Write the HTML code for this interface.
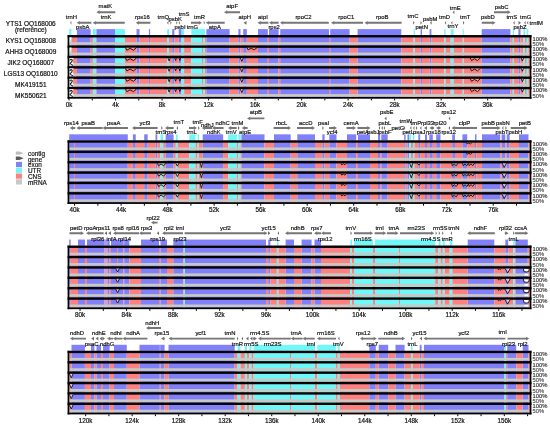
<!DOCTYPE html><html><head><meta charset="utf-8"><style>html,body{margin:0;padding:0;background:#fff;}svg{display:block;filter:blur(0.3px);}text{font-family:"Liberation Sans",sans-serif;stroke-linejoin:round;}.g{font-size:5.9px;fill:#111;stroke:#111;stroke-width:0.18px;}.n{font-size:6.5px;fill:#111;stroke:#111;stroke-width:0.2px;}.a{font-size:6.3px;fill:#111;stroke:#111;stroke-width:0.2px;}.p{font-size:5.8px;fill:#333;stroke:#333;stroke-width:0.15px;}.q{font-size:5.8px;fill:#484848;stroke:#484848;stroke-width:0.13px;}.lg{font-size:6.4px;fill:#111;stroke:#111;stroke-width:0.18px;}</style></head><body>
<svg width="550" height="425" viewBox="0 0 550 425">
<rect width="550" height="425" fill="#fff"/>
<text class="n" x="30.8" y="25.8" text-anchor="middle">YTS1 OQ168006</text>
<text class="n" x="30.8" y="32.3" text-anchor="middle">(reference)</text>
<text class="n" x="30.8" y="43.3" text-anchor="middle">KYS1 OQ168008</text>
<text class="n" x="30.8" y="54.2" text-anchor="middle">AHH3 OQ168009</text>
<text class="n" x="30.8" y="65.3" text-anchor="middle">JIK2 OQ168007</text>
<text class="n" x="30.8" y="76.4" text-anchor="middle">LGS13 OQ168010</text>
<text class="n" x="30.8" y="87.3" text-anchor="middle">MK419151</text>
<text class="n" x="30.8" y="98.3" text-anchor="middle">MK550621</text>
<text class="lg" x="28" y="155.8">contig</text>
<text class="lg" x="28" y="161.5">gene</text>
<text class="lg" x="28" y="167.3">exon</text>
<text class="lg" x="28" y="173.1">UTR</text>
<text class="lg" x="28" y="178.9">CNS</text>
<text class="lg" x="28" y="184.7">mRNA</text>
<path d="M15.8 151.5 L19.4 151.5 L23.7 153.15 L19.4 154.8 L15.8 154.8 Z" fill="#bdbdbd"/>
<path d="M15.8 156.6 L19.4 156.6 L23.7 158.35 L19.4 160.1 L15.8 160.1 Z" fill="#5a5a5a"/>
<rect x="16" y="161.9" width="6" height="5.2" fill="#8080fa"/>
<rect x="16" y="167.7" width="6" height="5.2" fill="#70f8f8"/>
<rect x="16" y="173.5" width="6" height="5.2" fill="#ff8080"/>
<rect x="16" y="179.3" width="6" height="5.2" fill="#c8c8c8"/>
<rect x="69.2" y="29.1" width="2.3" height="6.1" fill="#70f8f8"/>
<rect x="76.9" y="29.1" width="13.8" height="6.1" fill="#8080fa"/>
<rect x="92.9" y="29.1" width="2.9" height="6.1" fill="#70f8f8"/>
<rect x="95.8" y="29.1" width="0.7" height="6.1" fill="#70f8f8"/>
<rect x="96.5" y="29.1" width="18.5" height="6.1" fill="#8080fa"/>
<rect x="115" y="29.1" width="9.9" height="6.1" fill="#70f8f8"/>
<rect x="136.5" y="29.1" width="3" height="6.1" fill="#8080fa"/>
<rect x="148.9" y="29.1" width="1.2" height="6.1" fill="#8080fa"/>
<rect x="167.1" y="29.1" width="1.9" height="6.1" fill="#70f8f8"/>
<rect x="172.2" y="29.1" width="2.2" height="6.1" fill="#8080fa"/>
<rect x="178.7" y="29.1" width="2.3" height="6.1" fill="#8080fa"/>
<rect x="181" y="29.1" width="0.6" height="6.1" fill="#8080fa"/>
<rect x="181.6" y="29.1" width="2.5" height="6.1" fill="#70f8f8"/>
<rect x="191.4" y="29.1" width="10.6" height="6.1" fill="#70f8f8"/>
<rect x="202" y="29.1" width="1" height="6.1" fill="#70f8f8"/>
<rect x="203" y="29.1" width="2" height="6.1" fill="#70f8f8"/>
<rect x="206.4" y="29.1" width="23.2" height="6.1" fill="#8080fa"/>
<rect x="238.4" y="29.1" width="2.1" height="6.1" fill="#8080fa"/>
<rect x="243.2" y="29.1" width="3.6" height="6.1" fill="#8080fa"/>
<rect x="258" y="29.1" width="9.8" height="6.1" fill="#8080fa"/>
<rect x="269" y="29.1" width="9.6" height="6.1" fill="#8080fa"/>
<rect x="280.2" y="29.1" width="48.8" height="6.1" fill="#8080fa"/>
<rect x="330.2" y="29.1" width="19.4" height="6.1" fill="#8080fa"/>
<rect x="357.6" y="29.1" width="43.7" height="6.1" fill="#8080fa"/>
<rect x="413.6" y="29.1" width="1.2" height="6.1" fill="#70f8f8"/>
<rect x="420.6" y="29.1" width="1.4" height="6.1" fill="#8080fa"/>
<rect x="429.6" y="29.1" width="1.8" height="6.1" fill="#8080fa"/>
<rect x="444.2" y="29.1" width="1.4" height="6.1" fill="#70f8f8"/>
<rect x="450.7" y="29.1" width="2.9" height="6.1" fill="#70f8f8"/>
<rect x="462.8" y="29.1" width="1" height="6.1" fill="#70f8f8"/>
<rect x="481.7" y="29.1" width="28.7" height="6.1" fill="#8080fa"/>
<rect x="512.8" y="29.1" width="1.2" height="6.1" fill="#70f8f8"/>
<rect x="518.4" y="29.1" width="2.1" height="6.1" fill="#8080fa"/>
<rect x="523.5" y="29.1" width="1.5" height="6.1" fill="#70f8f8"/>
<rect x="526.8" y="29.1" width="1.5" height="6.1" fill="#70f8f8"/>
<rect x="69.2" y="36.2" width="2.3" height="61.65" fill="#70f8f8"/>
<rect x="71.5" y="36.2" width="5.4" height="61.65" fill="#ff8080"/>
<rect x="76.9" y="36.2" width="13.8" height="61.65" fill="#8080fa"/>
<rect x="90.7" y="36.2" width="2.2" height="61.65" fill="#ff8080"/>
<rect x="92.9" y="36.2" width="2.9" height="61.65" fill="#70f8f8"/>
<rect x="95.8" y="36.2" width="0.7" height="61.65" fill="#ff8080"/>
<rect x="96.5" y="36.2" width="18.5" height="61.65" fill="#8080fa"/>
<rect x="115" y="36.2" width="9.9" height="61.65" fill="#70f8f8"/>
<rect x="124.9" y="36.2" width="11.6" height="61.65" fill="#ff8080"/>
<rect x="136.5" y="36.2" width="3" height="61.65" fill="#8080fa"/>
<rect x="139.5" y="36.2" width="9.4" height="61.65" fill="#ff8080"/>
<rect x="148.9" y="36.2" width="1.2" height="61.65" fill="#8080fa"/>
<rect x="150.1" y="36.2" width="17" height="61.65" fill="#ff8080"/>
<rect x="167.1" y="36.2" width="1.9" height="61.65" fill="#70f8f8"/>
<rect x="169" y="36.2" width="3.2" height="61.65" fill="#ff8080"/>
<rect x="172.2" y="36.2" width="2.2" height="61.65" fill="#8080fa"/>
<rect x="174.4" y="36.2" width="4.3" height="61.65" fill="#ff8080"/>
<rect x="178.7" y="36.2" width="2.3" height="61.65" fill="#8080fa"/>
<rect x="181" y="36.2" width="0.6" height="61.65" fill="#ff8080"/>
<rect x="181.6" y="36.2" width="2.5" height="61.65" fill="#70f8f8"/>
<rect x="184.1" y="36.2" width="7.3" height="61.65" fill="#ff8080"/>
<rect x="191.4" y="36.2" width="10.6" height="61.65" fill="#70f8f8"/>
<rect x="202" y="36.2" width="1" height="61.65" fill="#ff8080"/>
<rect x="203" y="36.2" width="2" height="61.65" fill="#70f8f8"/>
<rect x="205" y="36.2" width="1.4" height="61.65" fill="#ff8080"/>
<rect x="206.4" y="36.2" width="23.2" height="61.65" fill="#8080fa"/>
<rect x="229.6" y="36.2" width="8.8" height="61.65" fill="#ff8080"/>
<rect x="238.4" y="36.2" width="2.1" height="61.65" fill="#8080fa"/>
<rect x="240.5" y="36.2" width="2.7" height="61.65" fill="#ff8080"/>
<rect x="243.2" y="36.2" width="3.6" height="61.65" fill="#8080fa"/>
<rect x="246.8" y="36.2" width="11.2" height="61.65" fill="#ff8080"/>
<rect x="258" y="36.2" width="9.8" height="61.65" fill="#8080fa"/>
<rect x="267.8" y="36.2" width="1.2" height="61.65" fill="#ff8080"/>
<rect x="269" y="36.2" width="9.6" height="61.65" fill="#8080fa"/>
<rect x="278.6" y="36.2" width="1.6" height="61.65" fill="#ff8080"/>
<rect x="280.2" y="36.2" width="48.8" height="61.65" fill="#8080fa"/>
<rect x="329" y="36.2" width="1.2" height="61.65" fill="#ff8080"/>
<rect x="330.2" y="36.2" width="19.4" height="61.65" fill="#8080fa"/>
<rect x="349.6" y="36.2" width="8" height="61.65" fill="#ff8080"/>
<rect x="357.6" y="36.2" width="43.7" height="61.65" fill="#8080fa"/>
<rect x="401.3" y="36.2" width="12.3" height="61.65" fill="#ff8080"/>
<rect x="413.6" y="36.2" width="1.2" height="61.65" fill="#70f8f8"/>
<rect x="414.8" y="36.2" width="5.8" height="61.65" fill="#ff8080"/>
<rect x="420.6" y="36.2" width="1.4" height="61.65" fill="#8080fa"/>
<rect x="422" y="36.2" width="7.6" height="61.65" fill="#ff8080"/>
<rect x="429.6" y="36.2" width="1.8" height="61.65" fill="#8080fa"/>
<rect x="431.4" y="36.2" width="12.8" height="61.65" fill="#ff8080"/>
<rect x="444.2" y="36.2" width="1.4" height="61.65" fill="#70f8f8"/>
<rect x="445.6" y="36.2" width="5.1" height="61.65" fill="#ff8080"/>
<rect x="450.7" y="36.2" width="2.9" height="61.65" fill="#70f8f8"/>
<rect x="453.6" y="36.2" width="9.2" height="61.65" fill="#ff8080"/>
<rect x="462.8" y="36.2" width="1" height="61.65" fill="#70f8f8"/>
<rect x="463.8" y="36.2" width="17.9" height="61.65" fill="#ff8080"/>
<rect x="481.7" y="36.2" width="28.7" height="61.65" fill="#8080fa"/>
<rect x="510.4" y="36.2" width="2.4" height="61.65" fill="#ff8080"/>
<rect x="512.8" y="36.2" width="1.2" height="61.65" fill="#70f8f8"/>
<rect x="514" y="36.2" width="4.4" height="61.65" fill="#ff8080"/>
<rect x="518.4" y="36.2" width="2.1" height="61.65" fill="#8080fa"/>
<rect x="520.5" y="36.2" width="3" height="61.65" fill="#ff8080"/>
<rect x="523.5" y="36.2" width="1.5" height="61.65" fill="#70f8f8"/>
<rect x="525" y="36.2" width="1.8" height="61.65" fill="#ff8080"/>
<rect x="526.8" y="36.2" width="1.5" height="61.65" fill="#70f8f8"/>
<rect x="528.3" y="36.2" width="1.6" height="61.65" fill="#ff8080"/>
<rect x="69.2" y="42.2" width="460.7" height="2.6" fill="#c8c8c4"/>
<rect x="67.6" y="35.05" width="463.9" height="2.4" fill="#000"/>
<text class="p" x="532.6" y="40.5">100%</text>
<text class="q" x="532.6" y="45.7">50%</text>
<rect x="69.2" y="52.57" width="460.7" height="2.6" fill="#c8c8c4"/>
<rect x="67.6" y="45.42" width="463.9" height="2.4" fill="#000"/>
<text class="p" x="532.6" y="50.87">100%</text>
<text class="q" x="532.6" y="56.07">50%</text>
<rect x="69.2" y="62.94" width="460.7" height="2.6" fill="#c8c8c4"/>
<rect x="67.6" y="55.79" width="463.9" height="2.4" fill="#000"/>
<text class="p" x="532.6" y="61.24">100%</text>
<text class="q" x="532.6" y="66.44">50%</text>
<rect x="69.2" y="73.31" width="460.7" height="2.6" fill="#c8c8c4"/>
<rect x="67.6" y="66.16" width="463.9" height="2.4" fill="#000"/>
<text class="p" x="532.6" y="71.61">100%</text>
<text class="q" x="532.6" y="76.81">50%</text>
<rect x="69.2" y="83.68" width="460.7" height="2.6" fill="#c8c8c4"/>
<rect x="67.6" y="76.53" width="463.9" height="2.4" fill="#000"/>
<text class="p" x="532.6" y="81.98">100%</text>
<text class="q" x="532.6" y="87.18">50%</text>
<rect x="69.2" y="94.05" width="460.7" height="2.6" fill="#c8c8c4"/>
<rect x="67.6" y="86.9" width="463.9" height="2.4" fill="#000"/>
<text class="p" x="532.6" y="92.35">100%</text>
<text class="q" x="532.6" y="97.55">50%</text>
<path d="M125.5 47.57 L126.82 50.17 L130.12 48.35 L133.42 50.17 L136.5 47.57 Z" fill="#fff" fill-opacity="0.25" stroke="none"/>
<path d="M125.5 47.57 L126.82 50.17 L130.12 48.35 L133.42 50.17 L136.5 47.57" fill="none" stroke="#111" stroke-width="0.95"/>
<path d="M125.5 57.94 L126.82 60.54 L130.12 58.72 L133.42 60.54 L136.5 57.94 Z" fill="#fff" fill-opacity="0.25" stroke="none"/>
<path d="M125.5 57.94 L126.82 60.54 L130.12 58.72 L133.42 60.54 L136.5 57.94" fill="none" stroke="#111" stroke-width="0.95"/>
<path d="M125.5 68.31 L126.82 70.91 L130.12 69.09 L133.42 70.91 L136.5 68.31 Z" fill="#fff" fill-opacity="0.25" stroke="none"/>
<path d="M125.5 68.31 L126.82 70.91 L130.12 69.09 L133.42 70.91 L136.5 68.31" fill="none" stroke="#111" stroke-width="0.95"/>
<path d="M125.5 78.68 L126.82 81.28 L130.12 79.46 L133.42 81.28 L136.5 78.68 Z" fill="#fff" fill-opacity="0.25" stroke="none"/>
<path d="M125.5 78.68 L126.82 81.28 L130.12 79.46 L133.42 81.28 L136.5 78.68" fill="none" stroke="#111" stroke-width="0.95"/>
<path d="M125.5 89.05 L126.82 91.65 L130.12 89.83 L133.42 91.65 L136.5 89.05 Z" fill="#fff" fill-opacity="0.25" stroke="none"/>
<path d="M125.5 89.05 L126.82 91.65 L130.12 89.83 L133.42 91.65 L136.5 89.05" fill="none" stroke="#111" stroke-width="0.95"/>
<path d="M168 57.94 L169.1 60.94 L170.2 57.94 Z" fill="#fff" fill-opacity="0.5" stroke="none"/>
<path d="M168 57.94 L169.1 60.94 L170.2 57.94" fill="none" stroke="#111" stroke-width="0.9"/>
<path d="M168 68.31 L169.1 71.31 L170.2 68.31 Z" fill="#fff" fill-opacity="0.5" stroke="none"/>
<path d="M168 68.31 L169.1 71.31 L170.2 68.31" fill="none" stroke="#111" stroke-width="0.9"/>
<path d="M168 78.68 L169.1 81.68 L170.2 78.68 Z" fill="#fff" fill-opacity="0.5" stroke="none"/>
<path d="M168 78.68 L169.1 81.68 L170.2 78.68" fill="none" stroke="#111" stroke-width="0.9"/>
<path d="M168 89.05 L169.1 92.05 L170.2 89.05 Z" fill="#fff" fill-opacity="0.5" stroke="none"/>
<path d="M168 89.05 L169.1 92.05 L170.2 89.05" fill="none" stroke="#111" stroke-width="0.9"/>
<path d="M174.8 57.94 L175.6 60.44 L176.4 57.94 Z" fill="#fff" fill-opacity="0.5" stroke="none"/>
<path d="M174.8 57.94 L175.6 60.44 L176.4 57.94" fill="none" stroke="#111" stroke-width="0.9"/>
<path d="M174.8 68.31 L175.6 70.81 L176.4 68.31 Z" fill="#fff" fill-opacity="0.5" stroke="none"/>
<path d="M174.8 68.31 L175.6 70.81 L176.4 68.31" fill="none" stroke="#111" stroke-width="0.9"/>
<path d="M174.8 78.68 L175.6 81.18 L176.4 78.68 Z" fill="#fff" fill-opacity="0.5" stroke="none"/>
<path d="M174.8 78.68 L175.6 81.18 L176.4 78.68" fill="none" stroke="#111" stroke-width="0.9"/>
<path d="M174.8 89.05 L175.6 91.55 L176.4 89.05 Z" fill="#fff" fill-opacity="0.5" stroke="none"/>
<path d="M174.8 89.05 L175.6 91.55 L176.4 89.05" fill="none" stroke="#111" stroke-width="0.9"/>
<path d="M179 57.94 L179.8 60.44 L180.6 57.94 Z" fill="#fff" fill-opacity="0.5" stroke="none"/>
<path d="M179 57.94 L179.8 60.44 L180.6 57.94" fill="none" stroke="#111" stroke-width="0.9"/>
<path d="M179 68.31 L179.8 70.81 L180.6 68.31 Z" fill="#fff" fill-opacity="0.5" stroke="none"/>
<path d="M179 68.31 L179.8 70.81 L180.6 68.31" fill="none" stroke="#111" stroke-width="0.9"/>
<path d="M179 78.68 L179.8 81.18 L180.6 78.68 Z" fill="#fff" fill-opacity="0.5" stroke="none"/>
<path d="M179 78.68 L179.8 81.18 L180.6 78.68" fill="none" stroke="#111" stroke-width="0.9"/>
<path d="M179 89.05 L179.8 91.55 L180.6 89.05 Z" fill="#fff" fill-opacity="0.5" stroke="none"/>
<path d="M179 89.05 L179.8 91.55 L180.6 89.05" fill="none" stroke="#111" stroke-width="0.9"/>
<path d="M247 47.57 L248.2 49.77 L251.2 48.23 L254.2 49.77 L257 47.57 Z" fill="#fff" fill-opacity="0.25" stroke="none"/>
<path d="M247 47.57 L248.2 49.77 L251.2 48.23 L254.2 49.77 L257 47.57" fill="none" stroke="#111" stroke-width="0.95"/>
<path d="M240.3 57.94 L241.8 61.44 L243.3 57.94 Z" fill="#fff" fill-opacity="0.5" stroke="none"/>
<path d="M240.3 57.94 L241.8 61.44 L243.3 57.94" fill="none" stroke="#111" stroke-width="0.9"/>
<path d="M240.3 68.31 L241.8 71.81 L243.3 68.31 Z" fill="#fff" fill-opacity="0.5" stroke="none"/>
<path d="M240.3 68.31 L241.8 71.81 L243.3 68.31" fill="none" stroke="#111" stroke-width="0.9"/>
<path d="M240.3 78.68 L241.8 82.18 L243.3 78.68 Z" fill="#fff" fill-opacity="0.5" stroke="none"/>
<path d="M240.3 78.68 L241.8 82.18 L243.3 78.68" fill="none" stroke="#111" stroke-width="0.9"/>
<path d="M240.3 89.05 L241.8 92.55 L243.3 89.05 Z" fill="#fff" fill-opacity="0.5" stroke="none"/>
<path d="M240.3 89.05 L241.8 92.55 L243.3 89.05" fill="none" stroke="#111" stroke-width="0.9"/>
<path d="M470.3 57.94 L471.5 60.54 L474.5 58.72 L477.5 60.54 L480.3 57.94 Z" fill="#fff" fill-opacity="0.25" stroke="none"/>
<path d="M470.3 57.94 L471.5 60.54 L474.5 58.72 L477.5 60.54 L480.3 57.94" fill="none" stroke="#111" stroke-width="0.95"/>
<path d="M470.3 68.31 L471.5 70.91 L474.5 69.09 L477.5 70.91 L480.3 68.31 Z" fill="#fff" fill-opacity="0.25" stroke="none"/>
<path d="M470.3 68.31 L471.5 70.91 L474.5 69.09 L477.5 70.91 L480.3 68.31" fill="none" stroke="#111" stroke-width="0.95"/>
<path d="M470.3 78.68 L471.5 81.28 L474.5 79.46 L477.5 81.28 L480.3 78.68 Z" fill="#fff" fill-opacity="0.25" stroke="none"/>
<path d="M470.3 78.68 L471.5 81.28 L474.5 79.46 L477.5 81.28 L480.3 78.68" fill="none" stroke="#111" stroke-width="0.95"/>
<path d="M470.3 89.05 L471.5 91.65 L474.5 89.83 L477.5 91.65 L480.3 89.05 Z" fill="#fff" fill-opacity="0.25" stroke="none"/>
<path d="M470.3 89.05 L471.5 91.65 L474.5 89.83 L477.5 91.65 L480.3 89.05" fill="none" stroke="#111" stroke-width="0.95"/>
<path d="M521.2 57.94 L522.4 60.94 L523.6 57.94 Z" fill="#fff" fill-opacity="0.5" stroke="none"/>
<path d="M521.2 57.94 L522.4 60.94 L523.6 57.94" fill="none" stroke="#111" stroke-width="0.9"/>
<path d="M521.2 68.31 L522.4 71.31 L523.6 68.31 Z" fill="#fff" fill-opacity="0.5" stroke="none"/>
<path d="M521.2 68.31 L522.4 71.31 L523.6 68.31" fill="none" stroke="#111" stroke-width="0.9"/>
<path d="M521.2 78.68 L522.4 81.68 L523.6 78.68 Z" fill="#fff" fill-opacity="0.5" stroke="none"/>
<path d="M521.2 78.68 L522.4 81.68 L523.6 78.68" fill="none" stroke="#111" stroke-width="0.9"/>
<path d="M521.2 89.05 L522.4 92.05 L523.6 89.05 Z" fill="#fff" fill-opacity="0.5" stroke="none"/>
<path d="M521.2 89.05 L522.4 92.05 L523.6 89.05" fill="none" stroke="#111" stroke-width="0.9"/>
<rect x="69.3" y="57.94" width="4.1" height="7.6" fill="#fff"/>
<path d="M73.6 57.94 Q72.2 60.44 72.8 62.94 L73.8 62.94 L73.8 57.94 Z" fill="#ff8080"/>
<path d="M69.7 60.54 Q71.1 58.14 72.3 60.14 Q71.9 62.14 70.1 63.34 Q71.1 65.14 73.1 65.34" fill="none" stroke="#1a2a2a" stroke-width="1.1"/>
<rect x="69.3" y="68.31" width="4.1" height="7.6" fill="#fff"/>
<path d="M73.6 68.31 Q72.2 70.81 72.8 73.31 L73.8 73.31 L73.8 68.31 Z" fill="#ff8080"/>
<path d="M69.7 70.91 Q71.1 68.51 72.3 70.51 Q71.9 72.51 70.1 73.71 Q71.1 75.51 73.1 75.71" fill="none" stroke="#1a2a2a" stroke-width="1.1"/>
<rect x="69.3" y="78.68" width="4.1" height="7.6" fill="#fff"/>
<path d="M73.6 78.68 Q72.2 81.18 72.8 83.68 L73.8 83.68 L73.8 78.68 Z" fill="#ff8080"/>
<path d="M69.7 81.28 Q71.1 78.88 72.3 80.88 Q71.9 82.88 70.1 84.08 Q71.1 85.88 73.1 86.08" fill="none" stroke="#1a2a2a" stroke-width="1.1"/>
<rect x="69.3" y="89.05" width="4.1" height="7.6" fill="#fff"/>
<path d="M73.6 89.05 Q72.2 91.55 72.8 94.05 L73.8 94.05 L73.8 89.05 Z" fill="#ff8080"/>
<path d="M69.7 91.65 Q71.1 89.25 72.3 91.25 Q71.9 93.25 70.1 94.45 Q71.1 96.25 73.1 96.45" fill="none" stroke="#1a2a2a" stroke-width="1.1"/>
<path d="M69.3 37.2 L71.6 37.2 L69.3 43.7 Z" fill="#fff"/>
<path d="M69.3 47.57 L71.6 47.57 L69.3 54.07 Z" fill="#fff"/>
<rect x="67.6" y="97" width="463.9" height="1.7" fill="#000"/>
<rect x="67.6" y="35.15" width="1.7" height="63.55" fill="#000"/>
<rect x="529.7" y="35.15" width="1.7" height="63.55" fill="#000"/>
<rect x="68.5" y="98.65" width="1" height="1.8" fill="#000"/>
<text class="a" x="69" y="107" text-anchor="middle">0k</text>
<rect x="91.76" y="98.65" width="1" height="1.8" fill="#000"/>
<rect x="115.02" y="98.65" width="1" height="1.8" fill="#000"/>
<text class="a" x="115.52" y="107" text-anchor="middle">4k</text>
<rect x="138.28" y="98.65" width="1" height="1.8" fill="#000"/>
<rect x="161.54" y="98.65" width="1" height="1.8" fill="#000"/>
<text class="a" x="162.04" y="107" text-anchor="middle">8k</text>
<rect x="184.8" y="98.65" width="1" height="1.8" fill="#000"/>
<rect x="208.06" y="98.65" width="1" height="1.8" fill="#000"/>
<text class="a" x="208.56" y="107" text-anchor="middle">12k</text>
<rect x="231.32" y="98.65" width="1" height="1.8" fill="#000"/>
<rect x="254.58" y="98.65" width="1" height="1.8" fill="#000"/>
<text class="a" x="255.08" y="107" text-anchor="middle">16k</text>
<rect x="277.84" y="98.65" width="1" height="1.8" fill="#000"/>
<rect x="301.1" y="98.65" width="1" height="1.8" fill="#000"/>
<text class="a" x="301.6" y="107" text-anchor="middle">20k</text>
<rect x="324.36" y="98.65" width="1" height="1.8" fill="#000"/>
<rect x="347.62" y="98.65" width="1" height="1.8" fill="#000"/>
<text class="a" x="348.12" y="107" text-anchor="middle">24k</text>
<rect x="370.88" y="98.65" width="1" height="1.8" fill="#000"/>
<rect x="394.14" y="98.65" width="1" height="1.8" fill="#000"/>
<text class="a" x="394.64" y="107" text-anchor="middle">28k</text>
<rect x="417.4" y="98.65" width="1" height="1.8" fill="#000"/>
<rect x="440.66" y="98.65" width="1" height="1.8" fill="#000"/>
<text class="a" x="441.16" y="107" text-anchor="middle">32k</text>
<rect x="463.92" y="98.65" width="1" height="1.8" fill="#000"/>
<rect x="487.18" y="98.65" width="1" height="1.8" fill="#000"/>
<text class="a" x="487.68" y="107" text-anchor="middle">36k</text>
<rect x="510.44" y="98.65" width="1" height="1.8" fill="#000"/>
<text class="g" x="98.5" y="8.2">matK</text>
<text class="g" x="226.2" y="8.2">atpF</text>
<text class="g" x="449.8" y="10.1">trnE</text>
<text class="g" x="494.7" y="9.4">psbC</text>
<text class="g" x="65.8" y="19.3">trnH</text>
<text class="g" x="100.7" y="19.3">trnK</text>
<text class="g" x="135.1" y="19.3">rps16</text>
<text class="g" x="157.6" y="19.3">trnQ</text>
<text class="g" x="168.5" y="20.9">psbK</text>
<text class="g" x="178.7" y="15.9">trnS</text>
<text class="g" x="194" y="19.3">trnR</text>
<text class="g" x="238.5" y="19.3">atpH</text>
<text class="g" x="258" y="19.3">atpI</text>
<text class="g" x="295.4" y="19.3">rpoC2</text>
<text class="g" x="338.3" y="19.3">rpoC1</text>
<text class="g" x="376" y="19.3">rpoB</text>
<text class="g" x="407.5" y="17.8">trnC</text>
<text class="g" x="423" y="20.9">psbM</text>
<text class="g" x="439" y="18.9">trnD</text>
<text class="g" x="460" y="18.9">trnT</text>
<text class="g" x="481" y="19.3">psbD</text>
<text class="g" x="506.4" y="19">trnS</text>
<text class="g" x="520" y="19.3">trnG</text>
<text class="g" x="529.6" y="25.4">trnfM</text>
<text class="g" x="76" y="29.2">psbA</text>
<text class="g" x="174.4" y="29.2">psbI</text>
<text class="g" x="186.7" y="29.2">trnG</text>
<text class="g" x="208.7" y="29.2">atpA</text>
<text class="g" x="268.4" y="29.2">rps2</text>
<text class="g" x="415.5" y="28.9">petN</text>
<text class="g" x="447.6" y="28.3">trnY</text>
<text class="g" x="513.6" y="28.9">psbZ</text>
<path d="M96.4 12.2 L99.6 10.3 L99.6 11.25 L115.3 11.25 L115.3 13.15 L99.6 13.15 L99.6 14.1 Z" fill="#767676"/>
<path d="M224 12.2 L227.2 10.3 L227.2 11.25 L240 11.25 L240 13.15 L227.2 13.15 L227.2 14.1 Z" fill="#767676"/>
<path d="M454.4 10.3 L452.6 12.2 L454.4 14.1 Z" fill="#6a6a6a"/>
<path d="M510.7 12.2 L507.5 10.3 L507.5 11.25 L494 11.25 L494 13.15 L507.5 13.15 L507.5 14.1 Z" fill="#767676"/>
<path d="M71.4 20.9 L70.2 22.8 L71.4 24.7 Z" fill="#6a6a6a"/>
<path d="M76.7 22.8 L79.9 20.9 L79.9 21.85 L91.3 21.85 L91.3 23.75 L79.9 23.75 L79.9 24.7 Z" fill="#767676"/>
<path d="M92.7 22.8 L95.9 20.9 L95.9 21.85 L124.7 21.85 L124.7 23.75 L95.9 23.75 L95.9 24.7 Z" fill="#767676"/>
<path d="M135.8 22.8 L139 20.9 L139 21.85 L150.4 21.85 L150.4 23.75 L139 23.75 L139 24.7 Z" fill="#767676"/>
<path d="M168.4 20.9 L167 22.8 L168.4 24.7 Z" fill="#6a6a6a"/>
<path d="M170.4 20.9 L171.6 22.8 L170.4 24.7 Z" fill="#6a6a6a"/>
<path d="M176.3 20.9 L177.5 22.8 L176.3 24.7 Z" fill="#6a6a6a"/>
<path d="M179.8 20.9 L178.6 22.8 L179.8 24.7 Z" fill="#6a6a6a"/>
<path d="M202 22.8 L198.8 20.9 L198.8 21.85 L191 21.85 L191 23.75 L198.8 23.75 L198.8 24.7 Z" fill="#767676"/>
<path d="M203.8 20.9 L205 22.8 L203.8 24.7 Z" fill="#6a6a6a"/>
<path d="M205.8 22.8 L209 20.9 L209 21.85 L224.7 21.85 L224.7 23.75 L209 23.75 L209 24.7 Z" fill="#767676"/>
<path d="M246.5 20.9 L243.6 22.8 L246.5 24.7 Z" fill="#6a6a6a"/>
<path d="M257.5 22.8 L260.7 20.9 L260.7 21.85 L268.4 21.85 L268.4 23.75 L260.7 23.75 L260.7 24.7 Z" fill="#767676"/>
<path d="M269 22.8 L272.2 20.9 L272.2 21.85 L278.6 21.85 L278.6 23.75 L272.2 23.75 L272.2 24.7 Z" fill="#767676"/>
<path d="M280 22.8 L283.2 20.9 L283.2 21.85 L328.8 21.85 L328.8 23.75 L283.2 23.75 L283.2 24.7 Z" fill="#767676"/>
<path d="M331 22.8 L334.2 20.9 L334.2 21.85 L363 21.85 L363 23.75 L334.2 23.75 L334.2 24.7 Z" fill="#767676"/>
<path d="M364.5 22.8 L367.7 20.9 L367.7 21.85 L401.6 21.85 L401.6 23.75 L367.7 23.75 L367.7 24.7 Z" fill="#767676"/>
<path d="M413.2 20.9 L414.6 22.8 L413.2 24.7 Z" fill="#6a6a6a"/>
<path d="M420.5 20.9 L422 22.8 L420.5 24.7 Z" fill="#6a6a6a"/>
<path d="M431.6 20.9 L430 22.8 L431.6 24.7 Z" fill="#6a6a6a"/>
<path d="M446.1 20.9 L444.7 22.8 L446.1 24.7 Z" fill="#6a6a6a"/>
<path d="M452.4 20.9 L451 22.8 L452.4 24.7 Z" fill="#6a6a6a"/>
<path d="M463 20.9 L464.4 22.8 L463 24.7 Z" fill="#6a6a6a"/>
<path d="M495.5 22.8 L492.3 20.9 L492.3 21.85 L481.8 21.85 L481.8 23.75 L492.3 23.75 L492.3 24.7 Z" fill="#767676"/>
<path d="M514.6 20.9 L513.2 22.8 L514.6 24.7 Z" fill="#6a6a6a"/>
<path d="M518.5 20.9 L521 22.8 L518.5 24.7 Z" fill="#6a6a6a"/>
<path d="M525.6 20.9 L524.2 22.8 L525.6 24.7 Z" fill="#6a6a6a"/>
<path d="M528.2 20.9 L526.8 22.8 L528.2 24.7 Z" fill="#6a6a6a"/>
<rect x="69.2" y="134.33" width="4.8" height="6.1" fill="#8080fa"/>
<rect x="74" y="134.33" width="1" height="6.1" fill="#8080fa"/>
<rect x="75" y="134.33" width="52.8" height="6.1" fill="#8080fa"/>
<rect x="132.9" y="134.33" width="2.9" height="6.1" fill="#8080fa"/>
<rect x="144.2" y="134.33" width="3.5" height="6.1" fill="#8080fa"/>
<rect x="155.5" y="134.33" width="1.8" height="6.1" fill="#8080fa"/>
<rect x="160.5" y="134.33" width="2.7" height="6.1" fill="#70f8f8"/>
<rect x="165.6" y="134.33" width="8" height="6.1" fill="#8080fa"/>
<rect x="175.8" y="134.33" width="1.9" height="6.1" fill="#70f8f8"/>
<rect x="189.3" y="134.33" width="6.2" height="6.1" fill="#70f8f8"/>
<rect x="197.6" y="134.33" width="1.4" height="6.1" fill="#70f8f8"/>
<rect x="202.7" y="134.33" width="20.4" height="6.1" fill="#8080fa"/>
<rect x="228.2" y="134.33" width="8.7" height="6.1" fill="#70f8f8"/>
<rect x="238.4" y="134.33" width="2.1" height="6.1" fill="#70f8f8"/>
<rect x="240.5" y="134.33" width="1" height="6.1" fill="#70f8f8"/>
<rect x="241.5" y="134.33" width="23" height="6.1" fill="#8080fa"/>
<rect x="274" y="134.33" width="16.7" height="6.1" fill="#8080fa"/>
<rect x="297.3" y="134.33" width="17.7" height="6.1" fill="#8080fa"/>
<rect x="322.3" y="134.33" width="2.3" height="6.1" fill="#8080fa"/>
<rect x="329.3" y="134.33" width="7.2" height="6.1" fill="#8080fa"/>
<rect x="347" y="134.33" width="9.2" height="6.1" fill="#8080fa"/>
<rect x="358" y="134.33" width="12" height="6.1" fill="#8080fa"/>
<rect x="378" y="134.33" width="2.2" height="6.1" fill="#8080fa"/>
<rect x="381.3" y="134.33" width="6.4" height="6.1" fill="#8080fa"/>
<rect x="404.2" y="134.33" width="1.4" height="6.1" fill="#8080fa"/>
<rect x="407.5" y="134.33" width="1.7" height="6.1" fill="#8080fa"/>
<rect x="409.2" y="134.33" width="1.8" height="6.1" fill="#70f8f8"/>
<rect x="413" y="134.33" width="1.4" height="6.1" fill="#70f8f8"/>
<rect x="418.3" y="134.33" width="1.9" height="6.1" fill="#8080fa"/>
<rect x="425" y="134.33" width="2" height="6.1" fill="#8080fa"/>
<rect x="429.3" y="134.33" width="3.5" height="6.1" fill="#8080fa"/>
<rect x="436.2" y="134.33" width="4.3" height="6.1" fill="#8080fa"/>
<rect x="452.2" y="134.33" width="2.8" height="6.1" fill="#8080fa"/>
<rect x="462.4" y="134.33" width="4.8" height="6.1" fill="#8080fa"/>
<rect x="475" y="134.33" width="1.5" height="6.1" fill="#8080fa"/>
<rect x="482" y="134.33" width="18.2" height="6.1" fill="#8080fa"/>
<rect x="501.6" y="134.33" width="3.7" height="6.1" fill="#8080fa"/>
<rect x="506.7" y="134.33" width="2.9" height="6.1" fill="#8080fa"/>
<rect x="519" y="134.33" width="9.5" height="6.1" fill="#8080fa"/>
<rect x="69.2" y="141.43" width="4.8" height="61.65" fill="#8080fa"/>
<rect x="74" y="141.43" width="1" height="61.65" fill="#ff8080"/>
<rect x="75" y="141.43" width="52.8" height="61.65" fill="#8080fa"/>
<rect x="127.8" y="141.43" width="5.1" height="61.65" fill="#ff8080"/>
<rect x="132.9" y="141.43" width="2.9" height="61.65" fill="#8080fa"/>
<rect x="135.8" y="141.43" width="8.4" height="61.65" fill="#ff8080"/>
<rect x="144.2" y="141.43" width="3.5" height="61.65" fill="#8080fa"/>
<rect x="147.7" y="141.43" width="7.8" height="61.65" fill="#ff8080"/>
<rect x="155.5" y="141.43" width="1.8" height="61.65" fill="#8080fa"/>
<rect x="157.3" y="141.43" width="3.2" height="61.65" fill="#ff8080"/>
<rect x="160.5" y="141.43" width="2.7" height="61.65" fill="#70f8f8"/>
<rect x="163.2" y="141.43" width="2.4" height="61.65" fill="#ff8080"/>
<rect x="165.6" y="141.43" width="8" height="61.65" fill="#8080fa"/>
<rect x="173.6" y="141.43" width="2.2" height="61.65" fill="#ff8080"/>
<rect x="175.8" y="141.43" width="1.9" height="61.65" fill="#70f8f8"/>
<rect x="177.7" y="141.43" width="11.6" height="61.65" fill="#ff8080"/>
<rect x="189.3" y="141.43" width="6.2" height="61.65" fill="#70f8f8"/>
<rect x="195.5" y="141.43" width="2.1" height="61.65" fill="#ff8080"/>
<rect x="197.6" y="141.43" width="1.4" height="61.65" fill="#70f8f8"/>
<rect x="199" y="141.43" width="3.7" height="61.65" fill="#ff8080"/>
<rect x="202.7" y="141.43" width="20.4" height="61.65" fill="#8080fa"/>
<rect x="223.1" y="141.43" width="5.1" height="61.65" fill="#ff8080"/>
<rect x="228.2" y="141.43" width="8.7" height="61.65" fill="#70f8f8"/>
<rect x="236.9" y="141.43" width="1.5" height="61.65" fill="#ff8080"/>
<rect x="238.4" y="141.43" width="2.1" height="61.65" fill="#70f8f8"/>
<rect x="240.5" y="141.43" width="1" height="61.65" fill="#ff8080"/>
<rect x="241.5" y="141.43" width="23" height="61.65" fill="#8080fa"/>
<rect x="264.5" y="141.43" width="9.5" height="61.65" fill="#ff8080"/>
<rect x="274" y="141.43" width="16.7" height="61.65" fill="#8080fa"/>
<rect x="290.7" y="141.43" width="6.6" height="61.65" fill="#ff8080"/>
<rect x="297.3" y="141.43" width="17.7" height="61.65" fill="#8080fa"/>
<rect x="315" y="141.43" width="7.3" height="61.65" fill="#ff8080"/>
<rect x="322.3" y="141.43" width="2.3" height="61.65" fill="#8080fa"/>
<rect x="324.6" y="141.43" width="4.7" height="61.65" fill="#ff8080"/>
<rect x="329.3" y="141.43" width="7.2" height="61.65" fill="#8080fa"/>
<rect x="336.5" y="141.43" width="10.5" height="61.65" fill="#ff8080"/>
<rect x="347" y="141.43" width="9.2" height="61.65" fill="#8080fa"/>
<rect x="356.2" y="141.43" width="1.8" height="61.65" fill="#ff8080"/>
<rect x="358" y="141.43" width="12" height="61.65" fill="#8080fa"/>
<rect x="370" y="141.43" width="8" height="61.65" fill="#ff8080"/>
<rect x="378" y="141.43" width="2.2" height="61.65" fill="#8080fa"/>
<rect x="380.2" y="141.43" width="1.1" height="61.65" fill="#ff8080"/>
<rect x="381.3" y="141.43" width="6.4" height="61.65" fill="#8080fa"/>
<rect x="387.7" y="141.43" width="16.5" height="61.65" fill="#ff8080"/>
<rect x="404.2" y="141.43" width="1.4" height="61.65" fill="#8080fa"/>
<rect x="405.6" y="141.43" width="1.9" height="61.65" fill="#ff8080"/>
<rect x="407.5" y="141.43" width="1.7" height="61.65" fill="#8080fa"/>
<rect x="409.2" y="141.43" width="1.8" height="61.65" fill="#70f8f8"/>
<rect x="411" y="141.43" width="2" height="61.65" fill="#ff8080"/>
<rect x="413" y="141.43" width="1.4" height="61.65" fill="#70f8f8"/>
<rect x="414.4" y="141.43" width="3.9" height="61.65" fill="#ff8080"/>
<rect x="418.3" y="141.43" width="1.9" height="61.65" fill="#8080fa"/>
<rect x="420.2" y="141.43" width="4.8" height="61.65" fill="#ff8080"/>
<rect x="425" y="141.43" width="2" height="61.65" fill="#8080fa"/>
<rect x="427" y="141.43" width="2.3" height="61.65" fill="#ff8080"/>
<rect x="429.3" y="141.43" width="3.5" height="61.65" fill="#8080fa"/>
<rect x="432.8" y="141.43" width="3.4" height="61.65" fill="#ff8080"/>
<rect x="436.2" y="141.43" width="4.3" height="61.65" fill="#8080fa"/>
<rect x="440.5" y="141.43" width="11.7" height="61.65" fill="#ff8080"/>
<rect x="452.2" y="141.43" width="2.8" height="61.65" fill="#8080fa"/>
<rect x="455" y="141.43" width="7.4" height="61.65" fill="#ff8080"/>
<rect x="462.4" y="141.43" width="4.8" height="61.65" fill="#8080fa"/>
<rect x="467.2" y="141.43" width="7.8" height="61.65" fill="#ff8080"/>
<rect x="475" y="141.43" width="1.5" height="61.65" fill="#8080fa"/>
<rect x="476.5" y="141.43" width="5.5" height="61.65" fill="#ff8080"/>
<rect x="482" y="141.43" width="18.2" height="61.65" fill="#8080fa"/>
<rect x="500.2" y="141.43" width="1.4" height="61.65" fill="#ff8080"/>
<rect x="501.6" y="141.43" width="3.7" height="61.65" fill="#8080fa"/>
<rect x="505.3" y="141.43" width="1.4" height="61.65" fill="#ff8080"/>
<rect x="506.7" y="141.43" width="2.9" height="61.65" fill="#8080fa"/>
<rect x="509.6" y="141.43" width="9.4" height="61.65" fill="#ff8080"/>
<rect x="519" y="141.43" width="9.5" height="61.65" fill="#8080fa"/>
<rect x="528.5" y="141.43" width="1.4" height="61.65" fill="#ff8080"/>
<rect x="69.2" y="147.43" width="460.7" height="2.6" fill="#c8c8c4"/>
<rect x="67.6" y="140.28" width="463.9" height="2.4" fill="#000"/>
<text class="p" x="532.6" y="145.73">100%</text>
<text class="q" x="532.6" y="150.93">50%</text>
<rect x="69.2" y="157.8" width="460.7" height="2.6" fill="#c8c8c4"/>
<rect x="67.6" y="150.65" width="463.9" height="2.4" fill="#000"/>
<text class="p" x="532.6" y="156.1">100%</text>
<text class="q" x="532.6" y="161.3">50%</text>
<rect x="69.2" y="168.17" width="460.7" height="2.6" fill="#c8c8c4"/>
<rect x="67.6" y="161.02" width="463.9" height="2.4" fill="#000"/>
<text class="p" x="532.6" y="166.47">100%</text>
<text class="q" x="532.6" y="171.67">50%</text>
<rect x="69.2" y="178.54" width="460.7" height="2.6" fill="#c8c8c4"/>
<rect x="67.6" y="171.39" width="463.9" height="2.4" fill="#000"/>
<text class="p" x="532.6" y="176.84">100%</text>
<text class="q" x="532.6" y="182.04">50%</text>
<rect x="69.2" y="188.91" width="460.7" height="2.6" fill="#c8c8c4"/>
<rect x="67.6" y="181.76" width="463.9" height="2.4" fill="#000"/>
<text class="p" x="532.6" y="187.21">100%</text>
<text class="q" x="532.6" y="192.41">50%</text>
<rect x="69.2" y="199.28" width="460.7" height="2.6" fill="#c8c8c4"/>
<rect x="67.6" y="192.13" width="463.9" height="2.4" fill="#000"/>
<text class="p" x="532.6" y="197.58">100%</text>
<text class="q" x="532.6" y="202.78">50%</text>
<path d="M157.5 163.17 L158.52 165.77 L161.07 163.95 L163.62 165.77 L166 163.17 Z" fill="#fff" fill-opacity="0.25" stroke="none"/>
<path d="M157.5 163.17 L158.52 165.77 L161.07 163.95 L163.62 165.77 L166 163.17" fill="none" stroke="#111" stroke-width="0.95"/>
<path d="M157.5 173.54 L158.52 176.14 L161.07 174.32 L163.62 176.14 L166 173.54 Z" fill="#fff" fill-opacity="0.25" stroke="none"/>
<path d="M157.5 173.54 L158.52 176.14 L161.07 174.32 L163.62 176.14 L166 173.54" fill="none" stroke="#111" stroke-width="0.95"/>
<path d="M157.5 183.91 L158.52 186.51 L161.07 184.69 L163.62 186.51 L166 183.91 Z" fill="#fff" fill-opacity="0.25" stroke="none"/>
<path d="M157.5 183.91 L158.52 186.51 L161.07 184.69 L163.62 186.51 L166 183.91" fill="none" stroke="#111" stroke-width="0.95"/>
<path d="M157.5 194.28 L158.52 196.88 L161.07 195.06 L163.62 196.88 L166 194.28 Z" fill="#fff" fill-opacity="0.25" stroke="none"/>
<path d="M157.5 194.28 L158.52 196.88 L161.07 195.06 L163.62 196.88 L166 194.28" fill="none" stroke="#111" stroke-width="0.95"/>
<path d="M175.8 163.17 L177.35 166.17 L178.9 163.17 Z" fill="#fff" fill-opacity="0.5" stroke="none"/>
<path d="M175.8 163.17 L177.35 166.17 L178.9 163.17" fill="none" stroke="#111" stroke-width="0.9"/>
<path d="M175.8 173.54 L177.35 176.54 L178.9 173.54 Z" fill="#fff" fill-opacity="0.5" stroke="none"/>
<path d="M175.8 173.54 L177.35 176.54 L178.9 173.54" fill="none" stroke="#111" stroke-width="0.9"/>
<path d="M175.8 183.91 L177.35 186.91 L178.9 183.91 Z" fill="#fff" fill-opacity="0.5" stroke="none"/>
<path d="M175.8 183.91 L177.35 186.91 L178.9 183.91" fill="none" stroke="#111" stroke-width="0.9"/>
<path d="M175.8 194.28 L177.35 197.28 L178.9 194.28 Z" fill="#fff" fill-opacity="0.5" stroke="none"/>
<path d="M175.8 194.28 L177.35 197.28 L178.9 194.28" fill="none" stroke="#111" stroke-width="0.9"/>
<path d="M200.3 163.17 L201.45 167.47 L202.6 163.17 Z" fill="#fff" fill-opacity="0.5" stroke="none"/>
<path d="M200.3 163.17 L201.45 167.47 L202.6 163.17" fill="none" stroke="#111" stroke-width="0.9"/>
<path d="M200.3 173.54 L201.45 177.84 L202.6 173.54 Z" fill="#fff" fill-opacity="0.5" stroke="none"/>
<path d="M200.3 173.54 L201.45 177.84 L202.6 173.54" fill="none" stroke="#111" stroke-width="0.9"/>
<path d="M200.3 183.91 L201.45 188.21 L202.6 183.91 Z" fill="#fff" fill-opacity="0.5" stroke="none"/>
<path d="M200.3 183.91 L201.45 188.21 L202.6 183.91" fill="none" stroke="#111" stroke-width="0.9"/>
<path d="M200.3 194.28 L201.45 198.58 L202.6 194.28 Z" fill="#fff" fill-opacity="0.5" stroke="none"/>
<path d="M200.3 194.28 L201.45 198.58 L202.6 194.28" fill="none" stroke="#111" stroke-width="0.9"/>
<path d="M341 163.17 L341.66 164.77 L343.31 163.65 L344.96 164.77 L346.5 163.17 Z" fill="#fff" fill-opacity="0.25" stroke="none"/>
<path d="M341 163.17 L341.66 164.77 L343.31 163.65 L344.96 164.77 L346.5 163.17" fill="none" stroke="#111" stroke-width="0.95"/>
<path d="M341 173.54 L341.66 175.14 L343.31 174.02 L344.96 175.14 L346.5 173.54 Z" fill="#fff" fill-opacity="0.25" stroke="none"/>
<path d="M341 173.54 L341.66 175.14 L343.31 174.02 L344.96 175.14 L346.5 173.54" fill="none" stroke="#111" stroke-width="0.95"/>
<path d="M341 183.91 L341.66 185.51 L343.31 184.39 L344.96 185.51 L346.5 183.91 Z" fill="#fff" fill-opacity="0.25" stroke="none"/>
<path d="M341 183.91 L341.66 185.51 L343.31 184.39 L344.96 185.51 L346.5 183.91" fill="none" stroke="#111" stroke-width="0.95"/>
<path d="M341 194.28 L341.66 195.88 L343.31 194.76 L344.96 195.88 L346.5 194.28 Z" fill="#fff" fill-opacity="0.25" stroke="none"/>
<path d="M341 194.28 L341.66 195.88 L343.31 194.76 L344.96 195.88 L346.5 194.28" fill="none" stroke="#111" stroke-width="0.95"/>
<path d="M409.7 163.17 L411.25 167.47 L412.8 163.17 Z" fill="#fff" fill-opacity="0.5" stroke="none"/>
<path d="M409.7 163.17 L411.25 167.47 L412.8 163.17" fill="none" stroke="#111" stroke-width="0.9"/>
<path d="M409.7 173.54 L411.25 177.84 L412.8 173.54 Z" fill="#fff" fill-opacity="0.5" stroke="none"/>
<path d="M409.7 173.54 L411.25 177.84 L412.8 173.54" fill="none" stroke="#111" stroke-width="0.9"/>
<path d="M409.7 183.91 L411.25 188.21 L412.8 183.91 Z" fill="#fff" fill-opacity="0.5" stroke="none"/>
<path d="M409.7 183.91 L411.25 188.21 L412.8 183.91" fill="none" stroke="#111" stroke-width="0.9"/>
<path d="M409.7 194.28 L411.25 198.58 L412.8 194.28 Z" fill="#fff" fill-opacity="0.5" stroke="none"/>
<path d="M409.7 194.28 L411.25 198.58 L412.8 194.28" fill="none" stroke="#111" stroke-width="0.9"/>
<path d="M417.3 163.17 L418.85 165.17 L420.4 163.17 Z" fill="#fff" fill-opacity="0.5" stroke="none"/>
<path d="M417.3 163.17 L418.85 165.17 L420.4 163.17" fill="none" stroke="#111" stroke-width="0.9"/>
<path d="M417.3 173.54 L418.85 175.54 L420.4 173.54 Z" fill="#fff" fill-opacity="0.5" stroke="none"/>
<path d="M417.3 173.54 L418.85 175.54 L420.4 173.54" fill="none" stroke="#111" stroke-width="0.9"/>
<path d="M417.3 183.91 L418.85 185.91 L420.4 183.91 Z" fill="#fff" fill-opacity="0.5" stroke="none"/>
<path d="M417.3 183.91 L418.85 185.91 L420.4 183.91" fill="none" stroke="#111" stroke-width="0.9"/>
<path d="M417.3 194.28 L418.85 196.28 L420.4 194.28 Z" fill="#fff" fill-opacity="0.5" stroke="none"/>
<path d="M417.3 194.28 L418.85 196.28 L420.4 194.28" fill="none" stroke="#111" stroke-width="0.9"/>
<path d="M451.7 163.17 L452.44 165.77 L454.3 163.95 L456.16 165.77 L457.9 163.17 Z" fill="#fff" fill-opacity="0.25" stroke="none"/>
<path d="M451.7 163.17 L452.44 165.77 L454.3 163.95 L456.16 165.77 L457.9 163.17" fill="none" stroke="#111" stroke-width="0.95"/>
<path d="M451.7 173.54 L452.44 176.14 L454.3 174.32 L456.16 176.14 L457.9 173.54 Z" fill="#fff" fill-opacity="0.25" stroke="none"/>
<path d="M451.7 173.54 L452.44 176.14 L454.3 174.32 L456.16 176.14 L457.9 173.54" fill="none" stroke="#111" stroke-width="0.95"/>
<path d="M451.7 183.91 L452.44 186.51 L454.3 184.69 L456.16 186.51 L457.9 183.91 Z" fill="#fff" fill-opacity="0.25" stroke="none"/>
<path d="M451.7 183.91 L452.44 186.51 L454.3 184.69 L456.16 186.51 L457.9 183.91" fill="none" stroke="#111" stroke-width="0.95"/>
<path d="M451.7 194.28 L452.44 196.88 L454.3 195.06 L456.16 196.88 L457.9 194.28 Z" fill="#fff" fill-opacity="0.25" stroke="none"/>
<path d="M451.7 194.28 L452.44 196.88 L454.3 195.06 L456.16 196.88 L457.9 194.28" fill="none" stroke="#111" stroke-width="0.95"/>
<path d="M462.5 163.17 L463.22 165.77 L465.02 163.95 L466.82 165.77 L468.5 163.17 Z" fill="#fff" fill-opacity="0.25" stroke="none"/>
<path d="M462.5 163.17 L463.22 165.77 L465.02 163.95 L466.82 165.77 L468.5 163.17" fill="none" stroke="#111" stroke-width="0.95"/>
<path d="M462.5 173.54 L463.22 176.14 L465.02 174.32 L466.82 176.14 L468.5 173.54 Z" fill="#fff" fill-opacity="0.25" stroke="none"/>
<path d="M462.5 173.54 L463.22 176.14 L465.02 174.32 L466.82 176.14 L468.5 173.54" fill="none" stroke="#111" stroke-width="0.95"/>
<path d="M462.5 183.91 L463.22 186.51 L465.02 184.69 L466.82 186.51 L468.5 183.91 Z" fill="#fff" fill-opacity="0.25" stroke="none"/>
<path d="M462.5 183.91 L463.22 186.51 L465.02 184.69 L466.82 186.51 L468.5 183.91" fill="none" stroke="#111" stroke-width="0.95"/>
<path d="M462.5 194.28 L463.22 196.88 L465.02 195.06 L466.82 196.88 L468.5 194.28 Z" fill="#fff" fill-opacity="0.25" stroke="none"/>
<path d="M462.5 194.28 L463.22 196.88 L465.02 195.06 L466.82 196.88 L468.5 194.28" fill="none" stroke="#111" stroke-width="0.95"/>
<path d="M468.5 163.17 L469.22 165.57 L471.02 163.89 L472.82 165.57 L474.5 163.17 Z" fill="#fff" fill-opacity="0.25" stroke="none"/>
<path d="M468.5 163.17 L469.22 165.57 L471.02 163.89 L472.82 165.57 L474.5 163.17" fill="none" stroke="#111" stroke-width="0.95"/>
<path d="M468.5 173.54 L469.22 175.94 L471.02 174.26 L472.82 175.94 L474.5 173.54 Z" fill="#fff" fill-opacity="0.25" stroke="none"/>
<path d="M468.5 173.54 L469.22 175.94 L471.02 174.26 L472.82 175.94 L474.5 173.54" fill="none" stroke="#111" stroke-width="0.95"/>
<path d="M468.5 183.91 L469.22 186.31 L471.02 184.63 L472.82 186.31 L474.5 183.91 Z" fill="#fff" fill-opacity="0.25" stroke="none"/>
<path d="M468.5 183.91 L469.22 186.31 L471.02 184.63 L472.82 186.31 L474.5 183.91" fill="none" stroke="#111" stroke-width="0.95"/>
<path d="M468.5 194.28 L469.22 196.68 L471.02 195 L472.82 196.68 L474.5 194.28 Z" fill="#fff" fill-opacity="0.25" stroke="none"/>
<path d="M468.5 194.28 L469.22 196.68 L471.02 195 L472.82 196.68 L474.5 194.28" fill="none" stroke="#111" stroke-width="0.95"/>
<path d="M466.5 142.43 L467.16 143.93 L468.81 142.88 L470.46 143.93 L472 142.43 Z" fill="#fff" fill-opacity="0.25" stroke="none"/>
<path d="M466.5 142.43 L467.16 143.93 L468.81 142.88 L470.46 143.93 L472 142.43" fill="none" stroke="#111" stroke-width="0.95"/>
<path d="M466.5 152.8 L467.16 154.3 L468.81 153.25 L470.46 154.3 L472 152.8 Z" fill="#fff" fill-opacity="0.25" stroke="none"/>
<path d="M466.5 152.8 L467.16 154.3 L468.81 153.25 L470.46 154.3 L472 152.8" fill="none" stroke="#111" stroke-width="0.95"/>
<path d="M502 163.17 L504.25 167.37 L506.5 163.17 Z" fill="#fff" fill-opacity="0.5" stroke="none"/>
<path d="M502 163.17 L504.25 167.37 L506.5 163.17" fill="none" stroke="#111" stroke-width="0.9"/>
<path d="M502 173.54 L504.25 177.74 L506.5 173.54 Z" fill="#fff" fill-opacity="0.5" stroke="none"/>
<path d="M502 173.54 L504.25 177.74 L506.5 173.54" fill="none" stroke="#111" stroke-width="0.9"/>
<path d="M502 183.91 L504.25 188.11 L506.5 183.91 Z" fill="#fff" fill-opacity="0.5" stroke="none"/>
<path d="M502 183.91 L504.25 188.11 L506.5 183.91" fill="none" stroke="#111" stroke-width="0.9"/>
<path d="M502 194.28 L504.25 198.48 L506.5 194.28 Z" fill="#fff" fill-opacity="0.5" stroke="none"/>
<path d="M502 194.28 L504.25 198.48 L506.5 194.28" fill="none" stroke="#111" stroke-width="0.9"/>
<rect x="67.6" y="202.23" width="463.9" height="1.7" fill="#000"/>
<rect x="67.6" y="140.38" width="1.7" height="63.55" fill="#000"/>
<rect x="529.7" y="140.38" width="1.7" height="63.55" fill="#000"/>
<rect x="74.08" y="203.88" width="1" height="1.8" fill="#000"/>
<text class="a" x="74.58" y="212.23" text-anchor="middle">40k</text>
<rect x="97.34" y="203.88" width="1" height="1.8" fill="#000"/>
<rect x="120.6" y="203.88" width="1" height="1.8" fill="#000"/>
<text class="a" x="121.1" y="212.23" text-anchor="middle">44k</text>
<rect x="143.86" y="203.88" width="1" height="1.8" fill="#000"/>
<rect x="167.12" y="203.88" width="1" height="1.8" fill="#000"/>
<text class="a" x="167.62" y="212.23" text-anchor="middle">48k</text>
<rect x="190.38" y="203.88" width="1" height="1.8" fill="#000"/>
<rect x="213.64" y="203.88" width="1" height="1.8" fill="#000"/>
<text class="a" x="214.14" y="212.23" text-anchor="middle">52k</text>
<rect x="236.9" y="203.88" width="1" height="1.8" fill="#000"/>
<rect x="260.16" y="203.88" width="1" height="1.8" fill="#000"/>
<text class="a" x="260.66" y="212.23" text-anchor="middle">56k</text>
<rect x="283.42" y="203.88" width="1" height="1.8" fill="#000"/>
<rect x="306.68" y="203.88" width="1" height="1.8" fill="#000"/>
<text class="a" x="307.18" y="212.23" text-anchor="middle">60k</text>
<rect x="329.94" y="203.88" width="1" height="1.8" fill="#000"/>
<rect x="353.2" y="203.88" width="1" height="1.8" fill="#000"/>
<text class="a" x="353.7" y="212.23" text-anchor="middle">64k</text>
<rect x="376.46" y="203.88" width="1" height="1.8" fill="#000"/>
<rect x="399.72" y="203.88" width="1" height="1.8" fill="#000"/>
<text class="a" x="400.22" y="212.23" text-anchor="middle">68k</text>
<rect x="422.98" y="203.88" width="1" height="1.8" fill="#000"/>
<rect x="446.24" y="203.88" width="1" height="1.8" fill="#000"/>
<text class="a" x="446.74" y="212.23" text-anchor="middle">72k</text>
<rect x="469.5" y="203.88" width="1" height="1.8" fill="#000"/>
<rect x="492.76" y="203.88" width="1" height="1.8" fill="#000"/>
<text class="a" x="493.26" y="212.23" text-anchor="middle">76k</text>
<rect x="516.02" y="203.88" width="1" height="1.8" fill="#000"/>
<text class="g" x="249.8" y="114.4">atpB</text>
<text class="g" x="380" y="114.4">psbE</text>
<text class="g" x="441.4" y="114.4">rps12</text>
<text class="g" x="64" y="124.6">rps14</text>
<text class="g" x="81.5" y="124.6">psaB</text>
<text class="g" x="107" y="124.6">psaA</text>
<text class="g" x="139.5" y="125.3">ycf3</text>
<text class="g" x="173.6" y="123.9">trnT</text>
<text class="g" x="192.5" y="123.9">trnF</text>
<text class="g" x="201" y="126.7">ndhJ</text>
<text class="g" x="215.6" y="125.3">ndhC</text>
<text class="g" x="231.6" y="124.6">trnM</text>
<text class="g" x="275.8" y="124.6">rbcL</text>
<text class="g" x="299" y="124.6">accD</text>
<text class="g" x="318" y="124.6">psaI</text>
<text class="g" x="343.6" y="124.6">cemA</text>
<text class="g" x="378.5" y="125.3">psbL</text>
<text class="g" x="391.6" y="129.6">petG</text>
<text class="g" x="399.6" y="123.1">trnW</text>
<text class="g" x="410.5" y="125.3">trnP</text>
<text class="g" x="421" y="125.3">rpl33</text>
<text class="g" x="433.4" y="125.3">rpl20</text>
<text class="g" x="458.8" y="124.6">clpP</text>
<text class="g" x="481.6" y="125.3">psbB</text>
<text class="g" x="496" y="125.3">psbN</text>
<text class="g" x="518.7" y="124.6">petB</text>
<text class="g" x="155.5" y="134.3">trnS</text>
<text class="g" x="165" y="134.3">rps4</text>
<text class="g" x="186.7" y="134.3">trnL</text>
<text class="g" x="207" y="134.3">ndhK</text>
<text class="g" x="225.8" y="134.3">trnV</text>
<text class="g" x="239" y="134.3">atpE</text>
<text class="g" x="326.7" y="134.3">ycf4</text>
<text class="g" x="356.7" y="134.3">petA</text>
<text class="g" x="367" y="134.3">psbJ</text>
<text class="g" x="378.6" y="134.3">psbF</text>
<text class="g" x="402.5" y="134.3">petL</text>
<text class="g" x="413" y="134.3">psaJ</text>
<text class="g" x="426" y="134.3">rps18</text>
<text class="g" x="441.4" y="134.3">rps12</text>
<text class="g" x="495.5" y="134.3">psbT</text>
<text class="g" x="508.5" y="134.3">psbH</text>
<path d="M247 118.4 L250.2 116.5 L250.2 117.45 L264.4 117.45 L264.4 119.35 L250.2 119.35 L250.2 120.3 Z" fill="#767676"/>
<path d="M386.5 116.5 L384.4 118.4 L386.5 120.3 Z" fill="#6a6a6a"/>
<path d="M450.2 116.5 L448.6 118.4 L450.2 120.3 Z" fill="#6a6a6a"/>
<path d="M69.8 128 L73 126.1 L73 127.05 L75.2 127.05 L75.2 128.95 L73 128.95 L73 129.9 Z" fill="#767676"/>
<path d="M76.4 128 L79.6 126.1 L79.6 127.05 L102.5 127.05 L102.5 128.95 L79.6 128.95 L79.6 129.9 Z" fill="#767676"/>
<path d="M102.5 128 L105.7 126.1 L105.7 127.05 L128 127.05 L128 128.95 L105.7 128.95 L105.7 129.9 Z" fill="#767676"/>
<path d="M132 128 L135.2 126.1 L135.2 127.05 L157.6 127.05 L157.6 128.95 L135.2 128.95 L135.2 129.9 Z" fill="#767676"/>
<path d="M161.3 126.1 L162.7 128 L161.3 129.9 Z" fill="#6a6a6a"/>
<path d="M165 128 L168.2 126.1 L168.2 127.05 L173.6 127.05 L173.6 128.95 L168.2 128.95 L168.2 129.9 Z" fill="#767676"/>
<path d="M178 126.1 L176.5 128 L178 129.9 Z" fill="#6a6a6a"/>
<path d="M197 128 L193.8 126.1 L193.8 127.05 L189 127.05 L189 128.95 L193.8 128.95 L193.8 129.9 Z" fill="#767676"/>
<path d="M198.2 126.1 L199.6 128 L198.2 129.9 Z" fill="#6a6a6a"/>
<path d="M201.8 128 L205 126.1 L205 127.05 L212 127.05 L212 128.95 L205 128.95 L205 129.9 Z" fill="#767676"/>
<path d="M212 128 L215.2 126.1 L215.2 127.05 L223.6 127.05 L223.6 128.95 L215.2 128.95 L215.2 129.9 Z" fill="#767676"/>
<path d="M228 128 L231.2 126.1 L231.2 127.05 L236.7 127.05 L236.7 128.95 L231.2 128.95 L231.2 129.9 Z" fill="#767676"/>
<path d="M238 126.1 L239.6 128 L238 129.9 Z" fill="#6a6a6a"/>
<path d="M241.8 128 L245 126.1 L245 127.05 L247.6 127.05 L247.6 128.95 L245 128.95 L245 129.9 Z" fill="#767676"/>
<path d="M291 128 L287.8 126.1 L287.8 127.05 L273.6 127.05 L273.6 128.95 L287.8 128.95 L287.8 129.9 Z" fill="#767676"/>
<path d="M315 128 L311.8 126.1 L311.8 127.05 L297 127.05 L297 128.95 L311.8 128.95 L311.8 129.9 Z" fill="#767676"/>
<path d="M322.4 126.1 L323.8 128 L322.4 129.9 Z" fill="#6a6a6a"/>
<path d="M337 128 L333.8 126.1 L333.8 127.05 L329 127.05 L329 128.95 L333.8 128.95 L333.8 129.9 Z" fill="#767676"/>
<path d="M356 128 L352.8 126.1 L352.8 127.05 L346.5 127.05 L346.5 128.95 L352.8 128.95 L352.8 129.9 Z" fill="#767676"/>
<path d="M370.5 128 L367.3 126.1 L367.3 127.05 L357.5 127.05 L357.5 128.95 L367.3 128.95 L367.3 129.9 Z" fill="#767676"/>
<path d="M380 126.1 L378.6 128 L380 129.9 Z" fill="#6a6a6a"/>
<path d="M382.8 126.1 L381.4 128 L382.8 129.9 Z" fill="#6a6a6a"/>
<path d="M385 126.1 L383.6 128 L385 129.9 Z" fill="#6a6a6a"/>
<path d="M404 126.1 L405.4 128 L404 129.9 Z" fill="#6a6a6a"/>
<path d="M411.4 126.1 L410 128 L411.4 129.9 Z" fill="#6a6a6a"/>
<path d="M414.4 126.1 L413 128 L414.4 129.9 Z" fill="#6a6a6a"/>
<path d="M416 126.1 L417.4 128 L416 129.9 Z" fill="#6a6a6a"/>
<path d="M421.4 126.1 L420 128 L421.4 129.9 Z" fill="#6a6a6a"/>
<path d="M424 128 L427 126.1 L427 127.05 L427 127.05 L427 128.95 L427 128.95 L427 129.9 Z" fill="#767676"/>
<path d="M429.4 128 L432.6 126.1 L432.6 127.05 L434 127.05 L434 128.95 L432.6 128.95 L432.6 129.9 Z" fill="#767676"/>
<path d="M436 128 L439.2 126.1 L439.2 127.05 L440.5 127.05 L440.5 128.95 L439.2 128.95 L439.2 129.9 Z" fill="#767676"/>
<path d="M450 126.1 L448.5 128 L450 129.9 Z" fill="#6a6a6a"/>
<path d="M451.5 128 L454.7 126.1 L454.7 127.05 L477 127.05 L477 128.95 L454.7 128.95 L454.7 129.9 Z" fill="#767676"/>
<path d="M500.5 128 L497.3 126.1 L497.3 127.05 L481.6 127.05 L481.6 128.95 L497.3 128.95 L497.3 129.9 Z" fill="#767676"/>
<path d="M503.4 126.1 L502 128 L503.4 129.9 Z" fill="#6a6a6a"/>
<path d="M505.4 126.1 L506.8 128 L505.4 129.9 Z" fill="#6a6a6a"/>
<path d="M527.5 128 L524.3 126.1 L524.3 127.05 L510.7 127.05 L510.7 128.95 L524.3 128.95 L524.3 129.9 Z" fill="#767676"/>
<rect x="69.2" y="239.56" width="1.5" height="6.1" fill="#8080fa"/>
<rect x="78" y="239.56" width="7" height="6.1" fill="#8080fa"/>
<rect x="87" y="239.56" width="17.5" height="6.1" fill="#8080fa"/>
<rect x="104.5" y="239.56" width="1" height="6.1" fill="#8080fa"/>
<rect x="105.5" y="239.56" width="1" height="6.1" fill="#8080fa"/>
<rect x="106.5" y="239.56" width="1" height="6.1" fill="#8080fa"/>
<rect x="107.5" y="239.56" width="2.1" height="6.1" fill="#8080fa"/>
<rect x="111" y="239.56" width="6" height="6.1" fill="#8080fa"/>
<rect x="117" y="239.56" width="1" height="6.1" fill="#8080fa"/>
<rect x="118" y="239.56" width="5.5" height="6.1" fill="#8080fa"/>
<rect x="123.5" y="239.56" width="0.7" height="6.1" fill="#8080fa"/>
<rect x="124.2" y="239.56" width="5.1" height="6.1" fill="#8080fa"/>
<rect x="141" y="239.56" width="18" height="6.1" fill="#8080fa"/>
<rect x="160.5" y="239.56" width="6.5" height="6.1" fill="#8080fa"/>
<rect x="173.3" y="239.56" width="9.9" height="6.1" fill="#8080fa"/>
<rect x="183.2" y="239.56" width="0.6" height="6.1" fill="#8080fa"/>
<rect x="183.8" y="239.56" width="1.2" height="6.1" fill="#70f8f8"/>
<rect x="185" y="239.56" width="81" height="6.1" fill="#8080fa"/>
<rect x="268.2" y="239.56" width="2.2" height="6.1" fill="#8080fa"/>
<rect x="276.9" y="239.56" width="1.5" height="6.1" fill="#70f8f8"/>
<rect x="285.6" y="239.56" width="8.4" height="6.1" fill="#8080fa"/>
<rect x="301.6" y="239.56" width="10" height="6.1" fill="#8080fa"/>
<rect x="314.5" y="239.56" width="6.5" height="6.1" fill="#8080fa"/>
<rect x="350.4" y="239.56" width="1.6" height="6.1" fill="#70f8f8"/>
<rect x="354" y="239.56" width="19" height="6.1" fill="#70f8f8"/>
<rect x="375" y="239.56" width="24" height="6.1" fill="#70f8f8"/>
<rect x="399" y="239.56" width="1" height="6.1" fill="#70f8f8"/>
<rect x="400" y="239.56" width="35.2" height="6.1" fill="#70f8f8"/>
<rect x="438.5" y="239.56" width="2.1" height="6.1" fill="#70f8f8"/>
<rect x="442.8" y="239.56" width="1.8" height="6.1" fill="#70f8f8"/>
<rect x="449.7" y="239.56" width="2.6" height="6.1" fill="#70f8f8"/>
<rect x="467.7" y="239.56" width="26.6" height="6.1" fill="#8080fa"/>
<rect x="505.3" y="239.56" width="2.9" height="6.1" fill="#8080fa"/>
<rect x="513.3" y="239.56" width="1.4" height="6.1" fill="#70f8f8"/>
<rect x="514.7" y="239.56" width="0.8" height="6.1" fill="#70f8f8"/>
<rect x="515.5" y="239.56" width="12.3" height="6.1" fill="#8080fa"/>
<rect x="69.2" y="246.66" width="1.5" height="61.65" fill="#8080fa"/>
<rect x="70.7" y="246.66" width="7.3" height="61.65" fill="#ff8080"/>
<rect x="78" y="246.66" width="7" height="61.65" fill="#8080fa"/>
<rect x="85" y="246.66" width="2" height="61.65" fill="#ff8080"/>
<rect x="87" y="246.66" width="17.5" height="61.65" fill="#8080fa"/>
<rect x="104.5" y="246.66" width="1" height="61.65" fill="#ff8080"/>
<rect x="105.5" y="246.66" width="1" height="61.65" fill="#8080fa"/>
<rect x="106.5" y="246.66" width="1" height="61.65" fill="#ff8080"/>
<rect x="107.5" y="246.66" width="2.1" height="61.65" fill="#8080fa"/>
<rect x="109.6" y="246.66" width="1.4" height="61.65" fill="#ff8080"/>
<rect x="111" y="246.66" width="6" height="61.65" fill="#8080fa"/>
<rect x="117" y="246.66" width="1" height="61.65" fill="#ff8080"/>
<rect x="118" y="246.66" width="5.5" height="61.65" fill="#8080fa"/>
<rect x="123.5" y="246.66" width="0.7" height="61.65" fill="#ff8080"/>
<rect x="124.2" y="246.66" width="5.1" height="61.65" fill="#8080fa"/>
<rect x="129.3" y="246.66" width="11.7" height="61.65" fill="#ff8080"/>
<rect x="141" y="246.66" width="18" height="61.65" fill="#8080fa"/>
<rect x="159" y="246.66" width="1.5" height="61.65" fill="#ff8080"/>
<rect x="160.5" y="246.66" width="6.5" height="61.65" fill="#8080fa"/>
<rect x="167" y="246.66" width="6.3" height="61.65" fill="#ff8080"/>
<rect x="173.3" y="246.66" width="9.9" height="61.65" fill="#8080fa"/>
<rect x="183.2" y="246.66" width="0.6" height="61.65" fill="#ff8080"/>
<rect x="183.8" y="246.66" width="1.2" height="61.65" fill="#70f8f8"/>
<rect x="185" y="246.66" width="81" height="61.65" fill="#8080fa"/>
<rect x="266" y="246.66" width="2.2" height="61.65" fill="#ff8080"/>
<rect x="268.2" y="246.66" width="2.2" height="61.65" fill="#8080fa"/>
<rect x="270.4" y="246.66" width="6.5" height="61.65" fill="#ff8080"/>
<rect x="276.9" y="246.66" width="1.5" height="61.65" fill="#70f8f8"/>
<rect x="278.4" y="246.66" width="7.2" height="61.65" fill="#ff8080"/>
<rect x="285.6" y="246.66" width="8.4" height="61.65" fill="#8080fa"/>
<rect x="294" y="246.66" width="7.6" height="61.65" fill="#ff8080"/>
<rect x="301.6" y="246.66" width="10" height="61.65" fill="#8080fa"/>
<rect x="311.6" y="246.66" width="2.9" height="61.65" fill="#ff8080"/>
<rect x="314.5" y="246.66" width="6.5" height="61.65" fill="#8080fa"/>
<rect x="321" y="246.66" width="29.4" height="61.65" fill="#ff8080"/>
<rect x="350.4" y="246.66" width="1.6" height="61.65" fill="#70f8f8"/>
<rect x="352" y="246.66" width="2" height="61.65" fill="#ff8080"/>
<rect x="354" y="246.66" width="19" height="61.65" fill="#70f8f8"/>
<rect x="373" y="246.66" width="2" height="61.65" fill="#ff8080"/>
<rect x="375" y="246.66" width="24" height="61.65" fill="#70f8f8"/>
<rect x="399" y="246.66" width="1" height="61.65" fill="#ff8080"/>
<rect x="400" y="246.66" width="35.2" height="61.65" fill="#70f8f8"/>
<rect x="435.2" y="246.66" width="3.3" height="61.65" fill="#ff8080"/>
<rect x="438.5" y="246.66" width="2.1" height="61.65" fill="#70f8f8"/>
<rect x="440.6" y="246.66" width="2.2" height="61.65" fill="#ff8080"/>
<rect x="442.8" y="246.66" width="1.8" height="61.65" fill="#70f8f8"/>
<rect x="444.6" y="246.66" width="5.1" height="61.65" fill="#ff8080"/>
<rect x="449.7" y="246.66" width="2.6" height="61.65" fill="#70f8f8"/>
<rect x="452.3" y="246.66" width="15.4" height="61.65" fill="#ff8080"/>
<rect x="467.7" y="246.66" width="26.6" height="61.65" fill="#8080fa"/>
<rect x="494.3" y="246.66" width="11" height="61.65" fill="#ff8080"/>
<rect x="505.3" y="246.66" width="2.9" height="61.65" fill="#8080fa"/>
<rect x="508.2" y="246.66" width="5.1" height="61.65" fill="#ff8080"/>
<rect x="513.3" y="246.66" width="1.4" height="61.65" fill="#70f8f8"/>
<rect x="514.7" y="246.66" width="0.8" height="61.65" fill="#ff8080"/>
<rect x="515.5" y="246.66" width="12.3" height="61.65" fill="#8080fa"/>
<rect x="527.8" y="246.66" width="2.1" height="61.65" fill="#ff8080"/>
<rect x="69.2" y="252.66" width="460.7" height="2.6" fill="#c8c8c4"/>
<rect x="67.6" y="245.51" width="463.9" height="2.4" fill="#000"/>
<text class="p" x="532.6" y="250.96">100%</text>
<text class="q" x="532.6" y="256.16">50%</text>
<rect x="69.2" y="263.03" width="460.7" height="2.6" fill="#c8c8c4"/>
<rect x="67.6" y="255.88" width="463.9" height="2.4" fill="#000"/>
<text class="p" x="532.6" y="261.33">100%</text>
<text class="q" x="532.6" y="266.53">50%</text>
<rect x="69.2" y="273.4" width="460.7" height="2.6" fill="#c8c8c4"/>
<rect x="67.6" y="266.25" width="463.9" height="2.4" fill="#000"/>
<text class="p" x="532.6" y="271.7">100%</text>
<text class="q" x="532.6" y="276.9">50%</text>
<rect x="69.2" y="283.77" width="460.7" height="2.6" fill="#c8c8c4"/>
<rect x="67.6" y="276.62" width="463.9" height="2.4" fill="#000"/>
<text class="p" x="532.6" y="282.07">100%</text>
<text class="q" x="532.6" y="287.27">50%</text>
<rect x="69.2" y="294.14" width="460.7" height="2.6" fill="#c8c8c4"/>
<rect x="67.6" y="286.99" width="463.9" height="2.4" fill="#000"/>
<text class="p" x="532.6" y="292.44">100%</text>
<text class="q" x="532.6" y="297.64">50%</text>
<rect x="69.2" y="304.51" width="460.7" height="2.6" fill="#c8c8c4"/>
<rect x="67.6" y="297.36" width="463.9" height="2.4" fill="#000"/>
<text class="p" x="532.6" y="302.81">100%</text>
<text class="q" x="532.6" y="308.01">50%</text>
<path d="M115.7 268.4 L117.6 272 L119.5 268.4 Z" fill="#fff" fill-opacity="0.5" stroke="none"/>
<path d="M115.7 268.4 L117.6 272 L119.5 268.4" fill="none" stroke="#111" stroke-width="0.9"/>
<path d="M115.7 278.77 L117.6 282.37 L119.5 278.77 Z" fill="#fff" fill-opacity="0.5" stroke="none"/>
<path d="M115.7 278.77 L117.6 282.37 L119.5 278.77" fill="none" stroke="#111" stroke-width="0.9"/>
<path d="M115.7 289.14 L117.6 292.74 L119.5 289.14 Z" fill="#fff" fill-opacity="0.5" stroke="none"/>
<path d="M115.7 289.14 L117.6 292.74 L119.5 289.14" fill="none" stroke="#111" stroke-width="0.9"/>
<path d="M115.7 299.51 L117.6 303.11 L119.5 299.51 Z" fill="#fff" fill-opacity="0.5" stroke="none"/>
<path d="M115.7 299.51 L117.6 303.11 L119.5 299.51" fill="none" stroke="#111" stroke-width="0.9"/>
<path d="M505 268.4 L507.65 273 L510.3 268.4 Z" fill="#fff" fill-opacity="0.5" stroke="none"/>
<path d="M505 268.4 L507.65 273 L510.3 268.4" fill="none" stroke="#111" stroke-width="0.9"/>
<path d="M505 278.77 L507.65 283.37 L510.3 278.77 Z" fill="#fff" fill-opacity="0.5" stroke="none"/>
<path d="M505 278.77 L507.65 283.37 L510.3 278.77" fill="none" stroke="#111" stroke-width="0.9"/>
<path d="M505 289.14 L507.65 293.74 L510.3 289.14 Z" fill="#fff" fill-opacity="0.5" stroke="none"/>
<path d="M505 289.14 L507.65 293.74 L510.3 289.14" fill="none" stroke="#111" stroke-width="0.9"/>
<path d="M505 299.51 L507.65 304.11 L510.3 299.51 Z" fill="#fff" fill-opacity="0.5" stroke="none"/>
<path d="M505 299.51 L507.65 304.11 L510.3 299.51" fill="none" stroke="#111" stroke-width="0.9"/>
<path d="M523.3 268.4 L524.1 271.6 Q526.35 272.2 528.6 271.6 L529.4 268.4 Z" fill="#fff" stroke="#111" stroke-width="0.9"/>
<rect x="524.5" y="273.8" width="3.7" height="1.6" fill="#fff"/>
<path d="M523.3 278.77 L524.1 281.97 Q526.35 282.57 528.6 281.97 L529.4 278.77 Z" fill="#fff" stroke="#111" stroke-width="0.9"/>
<rect x="524.5" y="284.17" width="3.7" height="1.6" fill="#fff"/>
<path d="M523.3 289.14 L524.1 292.34 Q526.35 292.94 528.6 292.34 L529.4 289.14 Z" fill="#fff" stroke="#111" stroke-width="0.9"/>
<rect x="524.5" y="294.54" width="3.7" height="1.6" fill="#fff"/>
<path d="M523.3 299.51 L524.1 302.71 Q526.35 303.31 528.6 302.71 L529.4 299.51 Z" fill="#fff" stroke="#111" stroke-width="0.9"/>
<rect x="524.5" y="304.91" width="3.7" height="1.6" fill="#fff"/>
<path d="M498 268.4 L498.42 269.6 L499.47 268.76 L500.52 269.6 L501.5 268.4 Z" fill="#fff" fill-opacity="0.25" stroke="none"/>
<path d="M498 268.4 L498.42 269.6 L499.47 268.76 L500.52 269.6 L501.5 268.4" fill="none" stroke="#111" stroke-width="0.95"/>
<path d="M498 278.77 L498.42 279.97 L499.47 279.13 L500.52 279.97 L501.5 278.77 Z" fill="#fff" fill-opacity="0.25" stroke="none"/>
<path d="M498 278.77 L498.42 279.97 L499.47 279.13 L500.52 279.97 L501.5 278.77" fill="none" stroke="#111" stroke-width="0.95"/>
<path d="M498 289.14 L498.42 290.34 L499.47 289.5 L500.52 290.34 L501.5 289.14 Z" fill="#fff" fill-opacity="0.25" stroke="none"/>
<path d="M498 289.14 L498.42 290.34 L499.47 289.5 L500.52 290.34 L501.5 289.14" fill="none" stroke="#111" stroke-width="0.95"/>
<path d="M498 299.51 L498.42 300.71 L499.47 299.87 L500.52 300.71 L501.5 299.51 Z" fill="#fff" fill-opacity="0.25" stroke="none"/>
<path d="M498 299.51 L498.42 300.71 L499.47 299.87 L500.52 300.71 L501.5 299.51" fill="none" stroke="#111" stroke-width="0.95"/>
<rect x="67.6" y="307.46" width="463.9" height="1.7" fill="#000"/>
<rect x="67.6" y="245.61" width="1.7" height="63.55" fill="#000"/>
<rect x="529.7" y="245.61" width="1.7" height="63.55" fill="#000"/>
<rect x="79.55" y="309.11" width="1" height="1.8" fill="#000"/>
<text class="a" x="80.05" y="317.46" text-anchor="middle">80k</text>
<rect x="102.81" y="309.11" width="1" height="1.8" fill="#000"/>
<rect x="126.07" y="309.11" width="1" height="1.8" fill="#000"/>
<text class="a" x="126.57" y="317.46" text-anchor="middle">84k</text>
<rect x="149.33" y="309.11" width="1" height="1.8" fill="#000"/>
<rect x="172.59" y="309.11" width="1" height="1.8" fill="#000"/>
<text class="a" x="173.09" y="317.46" text-anchor="middle">88k</text>
<rect x="195.85" y="309.11" width="1" height="1.8" fill="#000"/>
<rect x="219.11" y="309.11" width="1" height="1.8" fill="#000"/>
<text class="a" x="219.61" y="317.46" text-anchor="middle">92k</text>
<rect x="242.37" y="309.11" width="1" height="1.8" fill="#000"/>
<rect x="265.63" y="309.11" width="1" height="1.8" fill="#000"/>
<text class="a" x="266.13" y="317.46" text-anchor="middle">96k</text>
<rect x="288.89" y="309.11" width="1" height="1.8" fill="#000"/>
<rect x="312.15" y="309.11" width="1" height="1.8" fill="#000"/>
<text class="a" x="312.65" y="317.46" text-anchor="middle">100k</text>
<rect x="335.41" y="309.11" width="1" height="1.8" fill="#000"/>
<rect x="358.67" y="309.11" width="1" height="1.8" fill="#000"/>
<text class="a" x="359.17" y="317.46" text-anchor="middle">104k</text>
<rect x="381.93" y="309.11" width="1" height="1.8" fill="#000"/>
<rect x="405.19" y="309.11" width="1" height="1.8" fill="#000"/>
<text class="a" x="405.69" y="317.46" text-anchor="middle">108k</text>
<rect x="428.45" y="309.11" width="1" height="1.8" fill="#000"/>
<rect x="451.71" y="309.11" width="1" height="1.8" fill="#000"/>
<text class="a" x="452.21" y="317.46" text-anchor="middle">112k</text>
<rect x="474.97" y="309.11" width="1" height="1.8" fill="#000"/>
<rect x="498.23" y="309.11" width="1" height="1.8" fill="#000"/>
<text class="a" x="498.73" y="317.46" text-anchor="middle">116k</text>
<rect x="521.49" y="309.11" width="1" height="1.8" fill="#000"/>
<text class="g" x="146.6" y="220.2">rpl22</text>
<text class="g" x="70" y="230.4">petD</text>
<text class="g" x="84" y="230.4">rpoA</text>
<text class="g" x="96" y="230.4">rps11</text>
<text class="g" x="112.4" y="230.4">rps8</text>
<text class="g" x="126.2" y="230.4">rpl16</text>
<text class="g" x="140.8" y="230.4">rps3</text>
<text class="g" x="164" y="230.4">rpl2</text>
<text class="g" x="175.7" y="230.4">trnI</text>
<text class="g" x="220" y="230.4">ycf2</text>
<text class="g" x="261.6" y="230.4">ycf15</text>
<text class="g" x="290.8" y="230.4">ndhB</text>
<text class="g" x="311" y="230.4">rps7</text>
<text class="g" x="345.4" y="230.4">trnV</text>
<text class="g" x="375.4" y="230.4">trnI</text>
<text class="g" x="388.5" y="230.4">trnA</text>
<text class="g" x="407.4" y="230.4">rrn23S</text>
<text class="g" x="433" y="230.4">rrn5S</text>
<text class="g" x="448.3" y="230.4">trnN</text>
<text class="g" x="473.7" y="230.4">ndhF</text>
<text class="g" x="499" y="230.4">rpl32</text>
<text class="g" x="514.4" y="230.4">ccsA</text>
<text class="g" x="91.3" y="240.5">rpl36</text>
<text class="g" x="106.5" y="240.5">infA</text>
<text class="g" x="118" y="240.5">rpl14</text>
<text class="g" x="150.3" y="240.5">rps19</text>
<text class="g" x="173.5" y="240.5">rpl23</text>
<text class="g" x="269.6" y="240.5">trnL</text>
<text class="g" x="317.7" y="240.5">rps12</text>
<text class="g" x="354" y="240.5">rrn16S</text>
<text class="g" x="421" y="240.5">rrn4.5S</text>
<text class="g" x="441.7" y="240.5">trnR</text>
<text class="g" x="508.6" y="240.5">trnL</text>
<path d="M151 222.6 L154.2 220.7 L154.2 221.65 L157.5 221.65 L157.5 223.55 L154.2 223.55 L154.2 224.5 Z" fill="#767676"/>
<path d="M84 233.2 L80.8 231.3 L80.8 232.25 L69.5 232.25 L69.5 234.15 L80.8 234.15 L80.8 235.1 Z" fill="#767676"/>
<path d="M86 233.2 L89.2 231.3 L89.2 232.25 L103.6 232.25 L103.6 234.15 L89.2 234.15 L89.2 235.1 Z" fill="#767676"/>
<path d="M107 231.3 L104.5 233.2 L107 235.1 Z" fill="#6a6a6a"/>
<path d="M108 233.2 L111 231.3 L111 232.25 L111 232.25 L111 234.15 L111 234.15 L111 235.1 Z" fill="#767676"/>
<path d="M113 233.2 L116.2 231.3 L116.2 232.25 L139 232.25 L139 234.15 L116.2 234.15 L116.2 235.1 Z" fill="#767676"/>
<path d="M139 233.2 L142.2 231.3 L142.2 232.25 L151 232.25 L151 234.15 L142.2 234.15 L142.2 235.1 Z" fill="#767676"/>
<path d="M159 231.3 L156.8 233.2 L159 235.1 Z" fill="#6a6a6a"/>
<path d="M162 233.2 L165.2 231.3 L165.2 232.25 L183 232.25 L183 234.15 L165.2 234.15 L165.2 235.1 Z" fill="#767676"/>
<path d="M267.5 233.2 L264.3 231.3 L264.3 232.25 L184.6 232.25 L184.6 234.15 L264.3 234.15 L264.3 235.1 Z" fill="#767676"/>
<path d="M268 231.3 L270.4 233.2 L268 235.1 Z" fill="#6a6a6a"/>
<path d="M279 231.3 L277.6 233.2 L279 235.1 Z" fill="#6a6a6a"/>
<path d="M285 233.2 L288.2 231.3 L288.2 232.25 L312 232.25 L312 234.15 L288.2 234.15 L288.2 235.1 Z" fill="#767676"/>
<path d="M314 233.2 L317.2 231.3 L317.2 232.25 L321 232.25 L321 234.15 L317.2 234.15 L317.2 235.1 Z" fill="#767676"/>
<path d="M321 233.2 L324.2 231.3 L324.2 232.25 L331 232.25 L331 234.15 L324.2 234.15 L324.2 235.1 Z" fill="#767676"/>
<path d="M350.5 231.3 L352 233.2 L350.5 235.1 Z" fill="#6a6a6a"/>
<path d="M373.2 233.2 L370 231.3 L370 232.25 L354 232.25 L354 234.15 L370 234.15 L370 235.1 Z" fill="#767676"/>
<path d="M386.3 233.2 L383.1 231.3 L383.1 232.25 L374.6 232.25 L374.6 234.15 L383.1 234.15 L383.1 235.1 Z" fill="#767676"/>
<path d="M398.6 233.2 L395.4 231.3 L395.4 232.25 L387 232.25 L387 234.15 L395.4 234.15 L395.4 235.1 Z" fill="#767676"/>
<path d="M434.3 233.2 L431.1 231.3 L431.1 232.25 L400 232.25 L400 234.15 L431.1 234.15 L431.1 235.1 Z" fill="#767676"/>
<path d="M435.6 231.3 L437 233.2 L435.6 235.1 Z" fill="#6a6a6a"/>
<path d="M438.8 231.3 L440.2 233.2 L438.8 235.1 Z" fill="#6a6a6a"/>
<path d="M442.2 231.3 L443.6 233.2 L442.2 235.1 Z" fill="#6a6a6a"/>
<path d="M452 231.3 L450.6 233.2 L452 235.1 Z" fill="#6a6a6a"/>
<path d="M467.2 233.2 L470.4 231.3 L470.4 232.25 L494.8 232.25 L494.8 234.15 L470.4 234.15 L470.4 235.1 Z" fill="#767676"/>
<path d="M508.6 233.2 L505.4 231.3 L505.4 232.25 L504.8 232.25 L504.8 234.15 L505.4 234.15 L505.4 235.1 Z" fill="#767676"/>
<path d="M513.2 231.3 L514.6 233.2 L513.2 235.1 Z" fill="#6a6a6a"/>
<path d="M528.4 233.2 L525.2 231.3 L525.2 232.25 L515 232.25 L515 234.15 L525.2 234.15 L525.2 235.1 Z" fill="#767676"/>
<rect x="71.5" y="344.79" width="13.4" height="6.1" fill="#8080fa"/>
<rect x="91" y="344.79" width="3.4" height="6.1" fill="#8080fa"/>
<rect x="96.5" y="344.79" width="4.5" height="6.1" fill="#8080fa"/>
<rect x="103" y="344.79" width="6.6" height="6.1" fill="#8080fa"/>
<rect x="114" y="344.79" width="12.8" height="6.1" fill="#8080fa"/>
<rect x="139.5" y="344.79" width="20.3" height="6.1" fill="#8080fa"/>
<rect x="159.8" y="344.79" width="1" height="6.1" fill="#8080fa"/>
<rect x="160.8" y="344.79" width="3.8" height="6.1" fill="#8080fa"/>
<rect x="168.5" y="344.79" width="66.2" height="6.1" fill="#8080fa"/>
<rect x="237.6" y="344.79" width="2.9" height="6.1" fill="#70f8f8"/>
<rect x="244.9" y="344.79" width="2.1" height="6.1" fill="#70f8f8"/>
<rect x="249.3" y="344.79" width="2.2" height="6.1" fill="#70f8f8"/>
<rect x="253.6" y="344.79" width="36.4" height="6.1" fill="#70f8f8"/>
<rect x="290" y="344.79" width="1" height="6.1" fill="#70f8f8"/>
<rect x="291" y="344.79" width="24" height="6.1" fill="#70f8f8"/>
<rect x="317.3" y="344.79" width="18.5" height="6.1" fill="#70f8f8"/>
<rect x="337.7" y="344.79" width="2" height="6.1" fill="#70f8f8"/>
<rect x="369.3" y="344.79" width="6.5" height="6.1" fill="#8080fa"/>
<rect x="378.7" y="344.79" width="9.5" height="6.1" fill="#8080fa"/>
<rect x="395.5" y="344.79" width="9.1" height="6.1" fill="#8080fa"/>
<rect x="411" y="344.79" width="1.5" height="6.1" fill="#70f8f8"/>
<rect x="419.7" y="344.79" width="1.9" height="6.1" fill="#8080fa"/>
<rect x="424" y="344.79" width="80.5" height="6.1" fill="#8080fa"/>
<rect x="504.5" y="344.79" width="1.5" height="6.1" fill="#70f8f8"/>
<rect x="507.2" y="344.79" width="9" height="6.1" fill="#8080fa"/>
<rect x="522.7" y="344.79" width="5.8" height="6.1" fill="#8080fa"/>
<rect x="69.2" y="351.89" width="2.3" height="61.65" fill="#ff8080"/>
<rect x="71.5" y="351.89" width="13.4" height="61.65" fill="#8080fa"/>
<rect x="84.9" y="351.89" width="6.1" height="61.65" fill="#ff8080"/>
<rect x="91" y="351.89" width="3.4" height="61.65" fill="#8080fa"/>
<rect x="94.4" y="351.89" width="2.1" height="61.65" fill="#ff8080"/>
<rect x="96.5" y="351.89" width="4.5" height="61.65" fill="#8080fa"/>
<rect x="101" y="351.89" width="2" height="61.65" fill="#ff8080"/>
<rect x="103" y="351.89" width="6.6" height="61.65" fill="#8080fa"/>
<rect x="109.6" y="351.89" width="4.4" height="61.65" fill="#ff8080"/>
<rect x="114" y="351.89" width="12.8" height="61.65" fill="#8080fa"/>
<rect x="126.8" y="351.89" width="12.7" height="61.65" fill="#ff8080"/>
<rect x="139.5" y="351.89" width="20.3" height="61.65" fill="#8080fa"/>
<rect x="159.8" y="351.89" width="1" height="61.65" fill="#ff8080"/>
<rect x="160.8" y="351.89" width="3.8" height="61.65" fill="#8080fa"/>
<rect x="164.6" y="351.89" width="3.9" height="61.65" fill="#ff8080"/>
<rect x="168.5" y="351.89" width="66.2" height="61.65" fill="#8080fa"/>
<rect x="234.7" y="351.89" width="2.9" height="61.65" fill="#ff8080"/>
<rect x="237.6" y="351.89" width="2.9" height="61.65" fill="#70f8f8"/>
<rect x="240.5" y="351.89" width="4.4" height="61.65" fill="#ff8080"/>
<rect x="244.9" y="351.89" width="2.1" height="61.65" fill="#70f8f8"/>
<rect x="247" y="351.89" width="2.3" height="61.65" fill="#ff8080"/>
<rect x="249.3" y="351.89" width="2.2" height="61.65" fill="#70f8f8"/>
<rect x="251.5" y="351.89" width="2.1" height="61.65" fill="#ff8080"/>
<rect x="253.6" y="351.89" width="36.4" height="61.65" fill="#70f8f8"/>
<rect x="290" y="351.89" width="1" height="61.65" fill="#ff8080"/>
<rect x="291" y="351.89" width="24" height="61.65" fill="#70f8f8"/>
<rect x="315" y="351.89" width="2.3" height="61.65" fill="#ff8080"/>
<rect x="317.3" y="351.89" width="18.5" height="61.65" fill="#70f8f8"/>
<rect x="335.8" y="351.89" width="1.9" height="61.65" fill="#ff8080"/>
<rect x="337.7" y="351.89" width="2" height="61.65" fill="#70f8f8"/>
<rect x="339.7" y="351.89" width="29.6" height="61.65" fill="#ff8080"/>
<rect x="369.3" y="351.89" width="6.5" height="61.65" fill="#8080fa"/>
<rect x="375.8" y="351.89" width="2.9" height="61.65" fill="#ff8080"/>
<rect x="378.7" y="351.89" width="9.5" height="61.65" fill="#8080fa"/>
<rect x="388.2" y="351.89" width="7.3" height="61.65" fill="#ff8080"/>
<rect x="395.5" y="351.89" width="9.1" height="61.65" fill="#8080fa"/>
<rect x="404.6" y="351.89" width="6.4" height="61.65" fill="#ff8080"/>
<rect x="411" y="351.89" width="1.5" height="61.65" fill="#70f8f8"/>
<rect x="412.5" y="351.89" width="7.2" height="61.65" fill="#ff8080"/>
<rect x="419.7" y="351.89" width="1.9" height="61.65" fill="#8080fa"/>
<rect x="421.6" y="351.89" width="2.4" height="61.65" fill="#ff8080"/>
<rect x="424" y="351.89" width="80.5" height="61.65" fill="#8080fa"/>
<rect x="504.5" y="351.89" width="1.5" height="61.65" fill="#70f8f8"/>
<rect x="506" y="351.89" width="1.2" height="61.65" fill="#ff8080"/>
<rect x="507.2" y="351.89" width="9" height="61.65" fill="#8080fa"/>
<rect x="516.2" y="351.89" width="6.5" height="61.65" fill="#ff8080"/>
<rect x="522.7" y="351.89" width="5.8" height="61.65" fill="#8080fa"/>
<rect x="528.5" y="351.89" width="1.4" height="61.65" fill="#ff8080"/>
<rect x="69.2" y="357.89" width="460.7" height="2.6" fill="#c8c8c4"/>
<rect x="67.6" y="350.74" width="463.9" height="2.4" fill="#000"/>
<text class="p" x="532.6" y="356.19">100%</text>
<text class="q" x="532.6" y="361.39">50%</text>
<rect x="69.2" y="368.26" width="460.7" height="2.6" fill="#c8c8c4"/>
<rect x="67.6" y="361.11" width="463.9" height="2.4" fill="#000"/>
<text class="p" x="532.6" y="366.56">100%</text>
<text class="q" x="532.6" y="371.76">50%</text>
<rect x="69.2" y="378.63" width="460.7" height="2.6" fill="#c8c8c4"/>
<rect x="67.6" y="371.48" width="463.9" height="2.4" fill="#000"/>
<text class="p" x="532.6" y="376.93">100%</text>
<text class="q" x="532.6" y="382.13">50%</text>
<rect x="69.2" y="389" width="460.7" height="2.6" fill="#c8c8c4"/>
<rect x="67.6" y="381.85" width="463.9" height="2.4" fill="#000"/>
<text class="p" x="532.6" y="387.3">100%</text>
<text class="q" x="532.6" y="392.5">50%</text>
<rect x="69.2" y="399.37" width="460.7" height="2.6" fill="#c8c8c4"/>
<rect x="67.6" y="392.22" width="463.9" height="2.4" fill="#000"/>
<text class="p" x="532.6" y="397.67">100%</text>
<text class="q" x="532.6" y="402.87">50%</text>
<rect x="69.2" y="409.74" width="460.7" height="2.6" fill="#c8c8c4"/>
<rect x="67.6" y="402.59" width="463.9" height="2.4" fill="#000"/>
<text class="p" x="532.6" y="408.04">100%</text>
<text class="q" x="532.6" y="413.24">50%</text>
<path d="M69.3 373.63 L71.25 377.83 L73.2 373.63 Z" fill="#fff" fill-opacity="0.5" stroke="none"/>
<path d="M69.3 373.63 L71.25 377.83 L73.2 373.63" fill="none" stroke="#111" stroke-width="0.9"/>
<path d="M69.3 384 L71.25 388.2 L73.2 384 Z" fill="#fff" fill-opacity="0.5" stroke="none"/>
<path d="M69.3 384 L71.25 388.2 L73.2 384" fill="none" stroke="#111" stroke-width="0.9"/>
<path d="M69.3 394.37 L71.25 398.57 L73.2 394.37 Z" fill="#fff" fill-opacity="0.5" stroke="none"/>
<path d="M69.3 394.37 L71.25 398.57 L73.2 394.37" fill="none" stroke="#111" stroke-width="0.9"/>
<path d="M69.3 404.74 L71.25 408.94 L73.2 404.74 Z" fill="#fff" fill-opacity="0.5" stroke="none"/>
<path d="M69.3 404.74 L71.25 408.94 L73.2 404.74" fill="none" stroke="#111" stroke-width="0.9"/>
<rect x="67.6" y="412.69" width="463.9" height="1.7" fill="#000"/>
<rect x="67.6" y="350.84" width="1.7" height="63.55" fill="#000"/>
<rect x="529.7" y="350.84" width="1.7" height="63.55" fill="#000"/>
<rect x="85.13" y="414.34" width="1" height="1.8" fill="#000"/>
<text class="a" x="85.63" y="422.69" text-anchor="middle">120k</text>
<rect x="108.39" y="414.34" width="1" height="1.8" fill="#000"/>
<rect x="131.65" y="414.34" width="1" height="1.8" fill="#000"/>
<text class="a" x="132.15" y="422.69" text-anchor="middle">124k</text>
<rect x="154.91" y="414.34" width="1" height="1.8" fill="#000"/>
<rect x="178.17" y="414.34" width="1" height="1.8" fill="#000"/>
<text class="a" x="178.67" y="422.69" text-anchor="middle">128k</text>
<rect x="201.43" y="414.34" width="1" height="1.8" fill="#000"/>
<rect x="224.69" y="414.34" width="1" height="1.8" fill="#000"/>
<text class="a" x="225.19" y="422.69" text-anchor="middle">132k</text>
<rect x="247.95" y="414.34" width="1" height="1.8" fill="#000"/>
<rect x="271.21" y="414.34" width="1" height="1.8" fill="#000"/>
<text class="a" x="271.71" y="422.69" text-anchor="middle">136k</text>
<rect x="294.47" y="414.34" width="1" height="1.8" fill="#000"/>
<rect x="317.73" y="414.34" width="1" height="1.8" fill="#000"/>
<text class="a" x="318.23" y="422.69" text-anchor="middle">140k</text>
<rect x="340.99" y="414.34" width="1" height="1.8" fill="#000"/>
<rect x="364.25" y="414.34" width="1" height="1.8" fill="#000"/>
<text class="a" x="364.75" y="422.69" text-anchor="middle">144k</text>
<rect x="387.51" y="414.34" width="1" height="1.8" fill="#000"/>
<rect x="410.77" y="414.34" width="1" height="1.8" fill="#000"/>
<text class="a" x="411.27" y="422.69" text-anchor="middle">148k</text>
<rect x="434.03" y="414.34" width="1" height="1.8" fill="#000"/>
<rect x="457.29" y="414.34" width="1" height="1.8" fill="#000"/>
<text class="a" x="457.79" y="422.69" text-anchor="middle">152k</text>
<rect x="480.55" y="414.34" width="1" height="1.8" fill="#000"/>
<rect x="503.81" y="414.34" width="1" height="1.8" fill="#000"/>
<text class="a" x="504.31" y="422.69" text-anchor="middle">156k</text>
<rect x="527.07" y="414.34" width="1" height="1.8" fill="#000"/>
<text class="g" x="145.2" y="325.2">ndhH</text>
<text class="g" x="70" y="335.4">ndhD</text>
<text class="g" x="92" y="335.4">ndhE</text>
<text class="g" x="110.2" y="335.4">ndhI</text>
<text class="g" x="126.2" y="335.4">ndhA</text>
<text class="g" x="154.6" y="335.4">rps15</text>
<text class="g" x="195.4" y="335.4">ycf1</text>
<text class="g" x="224.5" y="335.4">trnN</text>
<text class="g" x="250" y="335.4">rrn4.5S</text>
<text class="g" x="290.8" y="335.4">trnA</text>
<text class="g" x="317" y="335.4">rrn16S</text>
<text class="g" x="355.7" y="335.4">rps12</text>
<text class="g" x="384" y="335.4">ndhB</text>
<text class="g" x="412.5" y="335.4">ycf15</text>
<text class="g" x="458.4" y="335.4">ycf2</text>
<text class="g" x="498.4" y="334.4">trnI</text>
<text class="g" x="84.7" y="345.5">psaC</text>
<text class="g" x="100" y="345.5">ndhG</text>
<text class="g" x="231.8" y="345.5">trnR</text>
<text class="g" x="244" y="345.5">rrn5S</text>
<text class="g" x="263.8" y="345.5">rrn23S</text>
<text class="g" x="306.8" y="345.5">trnI</text>
<text class="g" x="333" y="345.5">trnV</text>
<text class="g" x="366.6" y="345.5">rps7</text>
<text class="g" x="407.4" y="345.5">trnL</text>
<text class="g" x="502" y="345.5">rpl23</text>
<text class="g" x="517.8" y="345.5">rpl2</text>
<path d="M146 328 L149.2 326.1 L149.2 327.05 L161 327.05 L161 328.95 L149.2 328.95 L149.2 329.9 Z" fill="#767676"/>
<path d="M70 338.6 L73.2 336.7 L73.2 337.65 L86 337.65 L86 339.55 L73.2 339.55 L73.2 340.5 Z" fill="#767676"/>
<path d="M94 336.7 L91.2 338.6 L94 340.5 Z" fill="#6a6a6a"/>
<path d="M98.4 336.7 L95.6 338.6 L98.4 340.5 Z" fill="#6a6a6a"/>
<path d="M102.2 336.7 L99.6 338.6 L102.2 340.5 Z" fill="#6a6a6a"/>
<path d="M102.4 336.7 L105 338.6 L102.4 340.5 Z" fill="#6a6a6a"/>
<path d="M107 338.6 L110.2 336.7 L110.2 337.65 L113 337.65 L113 339.55 L110.2 339.55 L110.2 340.5 Z" fill="#767676"/>
<path d="M113 338.6 L116.2 336.7 L116.2 337.65 L122.5 337.65 L122.5 339.55 L116.2 339.55 L116.2 340.5 Z" fill="#767676"/>
<path d="M122.5 338.6 L125.7 336.7 L125.7 337.65 L147.4 337.65 L147.4 339.55 L125.7 339.55 L125.7 340.5 Z" fill="#767676"/>
<path d="M161 338.6 L164.2 336.7 L164.2 337.65 L164.8 337.65 L164.8 339.55 L164.2 339.55 L164.2 340.5 Z" fill="#767676"/>
<path d="M168.5 338.6 L171.7 336.7 L171.7 337.65 L234.7 337.65 L234.7 339.55 L171.7 339.55 L171.7 340.5 Z" fill="#767676"/>
<path d="M237 336.7 L238.4 338.6 L237 340.5 Z" fill="#6a6a6a"/>
<path d="M243 336.7 L241.6 338.6 L243 340.5 Z" fill="#6a6a6a"/>
<path d="M248.5 336.7 L246 338.6 L248.5 340.5 Z" fill="#6a6a6a"/>
<path d="M252.5 336.7 L250 338.6 L252.5 340.5 Z" fill="#6a6a6a"/>
<path d="M257 338.6 L253.8 336.7 L253.8 337.65 L253 337.65 L253 339.55 L253.8 339.55 L253.8 340.5 Z" fill="#767676"/>
<path d="M258 338.6 L261.2 336.7 L261.2 337.65 L290.8 337.65 L290.8 339.55 L261.2 339.55 L261.2 340.5 Z" fill="#767676"/>
<path d="M290.8 338.6 L294 336.7 L294 337.65 L302.5 337.65 L302.5 339.55 L294 339.55 L294 340.5 Z" fill="#767676"/>
<path d="M302.5 338.6 L305.7 336.7 L305.7 337.65 L314.8 337.65 L314.8 339.55 L305.7 339.55 L305.7 340.5 Z" fill="#767676"/>
<path d="M317 338.6 L320.2 336.7 L320.2 337.65 L336 337.65 L336 339.55 L320.2 339.55 L320.2 340.5 Z" fill="#767676"/>
<path d="M339.5 336.7 L338 338.6 L339.5 340.5 Z" fill="#6a6a6a"/>
<path d="M360 338.6 L363 336.7 L363 337.65 L363 337.65 L363 339.55 L363 339.55 L363 340.5 Z" fill="#767676"/>
<path d="M376.8 338.6 L373.6 336.7 L373.6 337.65 L363 337.65 L363 339.55 L373.6 339.55 L373.6 340.5 Z" fill="#767676"/>
<path d="M405.2 338.6 L402 336.7 L402 337.65 L378.3 337.65 L378.3 339.55 L402 339.55 L402 340.5 Z" fill="#767676"/>
<path d="M411 336.7 L412.5 338.6 L411 340.5 Z" fill="#6a6a6a"/>
<path d="M422 336.7 L419.7 338.6 L422 340.5 Z" fill="#6a6a6a"/>
<path d="M423.4 338.6 L426.6 336.7 L426.6 337.65 L505.3 337.65 L505.3 339.55 L426.6 339.55 L426.6 340.5 Z" fill="#767676"/>
<path d="M529.3 338.6 L526.1 336.7 L526.1 337.65 L507.5 337.65 L507.5 339.55 L526.1 339.55 L526.1 340.5 Z" fill="#767676"/>
</svg></body></html>
